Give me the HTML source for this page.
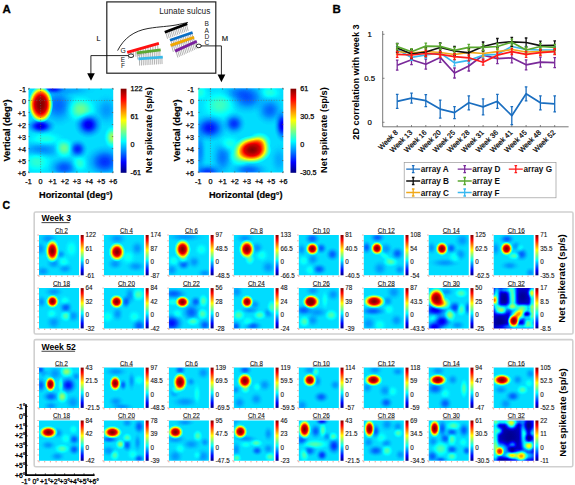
<!DOCTYPE html><html><head><meta charset="utf-8"><style>html,body{margin:0;padding:0;background:#fff;overflow:hidden}svg{display:block}text{font-family:"Liberation Sans",sans-serif}</style></head><body>
<svg width="575" height="485" viewBox="0 0 575 485">
<defs>
<filter id="jet" filterUnits="userSpaceOnUse" x="-5" y="-5" width="110" height="110" color-interpolation-filters="sRGB">
<feComponentTransfer>
<feFuncR type="table" tableValues="0 0 0 0 0.5 1 1 1 0.5"/>
<feFuncG type="table" tableValues="0 0 0.5 1 1 1 0.5 0 0"/>
<feFuncB type="table" tableValues="0.5 1 1 1 0.5 0 0 0 0"/>
</feComponentTransfer>
</filter>
<radialGradient id="gp"><stop offset="0" stop-color="#fff" stop-opacity="1"/><stop offset="0.2" stop-color="#fff" stop-opacity="0.95"/><stop offset="0.42" stop-color="#fff" stop-opacity="0.84"/><stop offset="0.62" stop-color="#fff" stop-opacity="0.52"/><stop offset="0.76" stop-color="#fff" stop-opacity="0.26"/><stop offset="0.88" stop-color="#fff" stop-opacity="0.09"/><stop offset="1" stop-color="#fff" stop-opacity="0"/></radialGradient>
<radialGradient id="gq"><stop offset="0" stop-color="#fff" stop-opacity="1"/><stop offset="0.25" stop-color="#fff" stop-opacity="0.97"/><stop offset="0.48" stop-color="#fff" stop-opacity="0.88"/><stop offset="0.66" stop-color="#fff" stop-opacity="0.65"/><stop offset="0.8" stop-color="#fff" stop-opacity="0.38"/><stop offset="0.9" stop-color="#fff" stop-opacity="0.17"/><stop offset="1" stop-color="#fff" stop-opacity="0"/></radialGradient>
<radialGradient id="gs"><stop offset="0" stop-color="#fff" stop-opacity="1"/><stop offset="0.2" stop-color="#fff" stop-opacity="0.9"/><stop offset="0.4" stop-color="#fff" stop-opacity="0.65"/><stop offset="0.6" stop-color="#fff" stop-opacity="0.33"/><stop offset="0.8" stop-color="#fff" stop-opacity="0.12"/><stop offset="1" stop-color="#fff" stop-opacity="0"/></radialGradient>
<radialGradient id="gn"><stop offset="0" stop-color="#000" stop-opacity="1"/><stop offset="0.2" stop-color="#000" stop-opacity="0.9"/><stop offset="0.4" stop-color="#000" stop-opacity="0.65"/><stop offset="0.6" stop-color="#000" stop-opacity="0.33"/><stop offset="0.8" stop-color="#000" stop-opacity="0.12"/><stop offset="1" stop-color="#000" stop-opacity="0"/></radialGradient>
<linearGradient id="jetv" x1="0" y1="1" x2="0" y2="0"><stop offset="0" stop-color="#000080"/><stop offset="0.125" stop-color="#0000ff"/><stop offset="0.375" stop-color="#00ffff"/><stop offset="0.625" stop-color="#ffff00"/><stop offset="0.875" stop-color="#ff0000"/><stop offset="1" stop-color="#800000"/></linearGradient>
</defs>
<text x="2.50" y="13.40" font-size="11.5" stroke="#000" stroke-width="0.3" font-weight="bold" >A</text>
<rect x="106.8" y="1.9" width="109" height="71.3" fill="none" stroke="#222" stroke-width="1.2"/>
<text x="159.20" y="13.60" font-size="8.3" fill="#222" >Lunate sulcus</text>
<path d="M117.6 50.6 C124 38 134 31 148 28.5 C160 26.5 168 26.5 176 25 C181 24 185 23 188 22.5" fill="none" stroke="#111" stroke-width="0.9"/>
<line x1="165.66" y1="31.97" x2="167.57" y2="38.77" stroke="#666" stroke-width="0.5"/><line x1="167.38" y1="31.32" x2="169.29" y2="38.12" stroke="#666" stroke-width="0.5"/><line x1="169.11" y1="30.67" x2="171.01" y2="37.47" stroke="#666" stroke-width="0.5"/><line x1="170.83" y1="30.01" x2="172.73" y2="36.81" stroke="#666" stroke-width="0.5"/><line x1="172.55" y1="29.36" x2="174.46" y2="36.16" stroke="#666" stroke-width="0.5"/><line x1="174.28" y1="28.70" x2="176.18" y2="35.50" stroke="#666" stroke-width="0.5"/><line x1="176.00" y1="28.05" x2="177.90" y2="34.85" stroke="#666" stroke-width="0.5"/><line x1="177.72" y1="27.40" x2="179.63" y2="34.20" stroke="#666" stroke-width="0.5"/><line x1="179.45" y1="26.74" x2="181.35" y2="33.54" stroke="#666" stroke-width="0.5"/><line x1="181.17" y1="26.09" x2="183.07" y2="32.89" stroke="#666" stroke-width="0.5"/><line x1="182.89" y1="25.43" x2="184.80" y2="32.23" stroke="#666" stroke-width="0.5"/><line x1="184.62" y1="24.78" x2="186.52" y2="31.58" stroke="#666" stroke-width="0.5"/><line x1="186.34" y1="24.13" x2="188.24" y2="30.93" stroke="#666" stroke-width="0.5"/><line x1="170.87" y1="40.00" x2="172.77" y2="46.80" stroke="#666" stroke-width="0.5"/><line x1="172.61" y1="39.40" x2="174.51" y2="46.20" stroke="#666" stroke-width="0.5"/><line x1="174.35" y1="38.80" x2="176.25" y2="45.60" stroke="#666" stroke-width="0.5"/><line x1="176.08" y1="38.20" x2="177.99" y2="45.00" stroke="#666" stroke-width="0.5"/><line x1="177.82" y1="37.60" x2="179.73" y2="44.40" stroke="#666" stroke-width="0.5"/><line x1="179.56" y1="37.00" x2="181.47" y2="43.80" stroke="#666" stroke-width="0.5"/><line x1="181.30" y1="36.40" x2="183.20" y2="43.20" stroke="#666" stroke-width="0.5"/><line x1="183.04" y1="35.80" x2="184.94" y2="42.60" stroke="#666" stroke-width="0.5"/><line x1="184.78" y1="35.20" x2="186.68" y2="42.00" stroke="#666" stroke-width="0.5"/><line x1="186.52" y1="34.60" x2="188.42" y2="41.40" stroke="#666" stroke-width="0.5"/><line x1="188.25" y1="34.00" x2="190.16" y2="40.80" stroke="#666" stroke-width="0.5"/><line x1="189.99" y1="33.40" x2="191.90" y2="40.20" stroke="#666" stroke-width="0.5"/><line x1="191.73" y1="32.80" x2="193.63" y2="39.60" stroke="#666" stroke-width="0.5"/><line x1="171.41" y1="45.08" x2="173.32" y2="51.88" stroke="#666" stroke-width="0.5"/><line x1="173.23" y1="44.45" x2="175.14" y2="51.25" stroke="#666" stroke-width="0.5"/><line x1="175.06" y1="43.82" x2="176.96" y2="50.62" stroke="#666" stroke-width="0.5"/><line x1="176.88" y1="43.19" x2="178.78" y2="49.99" stroke="#666" stroke-width="0.5"/><line x1="178.70" y1="42.56" x2="180.61" y2="49.36" stroke="#666" stroke-width="0.5"/><line x1="180.53" y1="41.93" x2="182.43" y2="48.73" stroke="#666" stroke-width="0.5"/><line x1="182.35" y1="41.30" x2="184.25" y2="48.10" stroke="#666" stroke-width="0.5"/><line x1="184.17" y1="40.67" x2="186.08" y2="47.47" stroke="#666" stroke-width="0.5"/><line x1="186.00" y1="40.04" x2="187.90" y2="46.84" stroke="#666" stroke-width="0.5"/><line x1="187.82" y1="39.41" x2="189.72" y2="46.21" stroke="#666" stroke-width="0.5"/><line x1="189.64" y1="38.78" x2="191.55" y2="45.58" stroke="#666" stroke-width="0.5"/><line x1="191.47" y1="38.15" x2="193.37" y2="44.95" stroke="#666" stroke-width="0.5"/><line x1="193.29" y1="37.52" x2="195.19" y2="44.32" stroke="#666" stroke-width="0.5"/><line x1="175.93" y1="50.72" x2="177.84" y2="57.52" stroke="#666" stroke-width="0.5"/><line x1="177.60" y1="49.97" x2="179.51" y2="56.77" stroke="#666" stroke-width="0.5"/><line x1="179.27" y1="49.22" x2="181.18" y2="56.02" stroke="#666" stroke-width="0.5"/><line x1="180.94" y1="48.46" x2="182.85" y2="55.26" stroke="#666" stroke-width="0.5"/><line x1="182.61" y1="47.71" x2="184.52" y2="54.51" stroke="#666" stroke-width="0.5"/><line x1="184.28" y1="46.95" x2="186.18" y2="53.75" stroke="#666" stroke-width="0.5"/><line x1="185.95" y1="46.20" x2="187.85" y2="53.00" stroke="#666" stroke-width="0.5"/><line x1="187.62" y1="45.45" x2="189.52" y2="52.25" stroke="#666" stroke-width="0.5"/><line x1="189.29" y1="44.69" x2="191.19" y2="51.49" stroke="#666" stroke-width="0.5"/><line x1="190.96" y1="43.94" x2="192.86" y2="50.74" stroke="#666" stroke-width="0.5"/><line x1="192.63" y1="43.18" x2="194.53" y2="49.98" stroke="#666" stroke-width="0.5"/><line x1="194.30" y1="42.43" x2="196.20" y2="49.23" stroke="#666" stroke-width="0.5"/><line x1="195.97" y1="41.68" x2="197.87" y2="48.48" stroke="#666" stroke-width="0.5"/><line x1="164.80" y1="32.30" x2="187.20" y2="23.80" stroke="#000" stroke-width="2.8"/><line x1="170.00" y1="40.30" x2="192.60" y2="32.50" stroke="#0a6ec4" stroke-width="2.8"/><line x1="170.50" y1="45.40" x2="194.20" y2="37.20" stroke="#f0a800" stroke-width="2.8"/><line x1="175.10" y1="51.10" x2="196.80" y2="41.30" stroke="#7a1f9e" stroke-width="2.8"/>
<line x1="128.42" y1="52.05" x2="128.62" y2="58.85" stroke="#666" stroke-width="0.5"/><line x1="130.86" y1="51.35" x2="131.06" y2="58.15" stroke="#666" stroke-width="0.5"/><line x1="133.30" y1="50.65" x2="133.50" y2="57.45" stroke="#666" stroke-width="0.5"/><line x1="135.73" y1="49.95" x2="135.94" y2="56.75" stroke="#666" stroke-width="0.5"/><line x1="138.17" y1="49.25" x2="138.38" y2="56.05" stroke="#666" stroke-width="0.5"/><line x1="140.61" y1="48.55" x2="140.82" y2="55.35" stroke="#666" stroke-width="0.5"/><line x1="143.05" y1="47.85" x2="143.25" y2="54.65" stroke="#666" stroke-width="0.5"/><line x1="145.49" y1="47.15" x2="145.69" y2="53.95" stroke="#666" stroke-width="0.5"/><line x1="147.93" y1="46.45" x2="148.13" y2="53.25" stroke="#666" stroke-width="0.5"/><line x1="150.37" y1="45.75" x2="150.57" y2="52.55" stroke="#666" stroke-width="0.5"/><line x1="152.80" y1="45.05" x2="153.01" y2="51.85" stroke="#666" stroke-width="0.5"/><line x1="155.24" y1="44.35" x2="155.45" y2="51.15" stroke="#666" stroke-width="0.5"/><line x1="157.68" y1="43.65" x2="157.88" y2="50.45" stroke="#666" stroke-width="0.5"/><line x1="137.62" y1="52.68" x2="137.83" y2="59.48" stroke="#666" stroke-width="0.5"/><line x1="139.47" y1="52.45" x2="139.67" y2="59.25" stroke="#666" stroke-width="0.5"/><line x1="141.32" y1="52.22" x2="141.52" y2="59.02" stroke="#666" stroke-width="0.5"/><line x1="143.16" y1="51.99" x2="143.37" y2="58.79" stroke="#666" stroke-width="0.5"/><line x1="145.01" y1="51.76" x2="145.21" y2="58.56" stroke="#666" stroke-width="0.5"/><line x1="146.85" y1="51.53" x2="147.06" y2="58.33" stroke="#666" stroke-width="0.5"/><line x1="148.70" y1="51.30" x2="148.90" y2="58.10" stroke="#666" stroke-width="0.5"/><line x1="150.55" y1="51.07" x2="150.75" y2="57.87" stroke="#666" stroke-width="0.5"/><line x1="152.39" y1="50.84" x2="152.60" y2="57.64" stroke="#666" stroke-width="0.5"/><line x1="154.24" y1="50.61" x2="154.44" y2="57.41" stroke="#666" stroke-width="0.5"/><line x1="156.08" y1="50.38" x2="156.29" y2="57.18" stroke="#666" stroke-width="0.5"/><line x1="157.93" y1="50.15" x2="158.13" y2="56.95" stroke="#666" stroke-width="0.5"/><line x1="159.78" y1="49.92" x2="159.98" y2="56.72" stroke="#666" stroke-width="0.5"/><line x1="139.43" y1="58.83" x2="139.64" y2="65.63" stroke="#666" stroke-width="0.5"/><line x1="141.30" y1="58.70" x2="141.51" y2="65.50" stroke="#666" stroke-width="0.5"/><line x1="143.17" y1="58.57" x2="143.38" y2="65.37" stroke="#666" stroke-width="0.5"/><line x1="145.04" y1="58.44" x2="145.25" y2="65.24" stroke="#666" stroke-width="0.5"/><line x1="146.91" y1="58.31" x2="147.12" y2="65.11" stroke="#666" stroke-width="0.5"/><line x1="148.78" y1="58.18" x2="148.98" y2="64.98" stroke="#666" stroke-width="0.5"/><line x1="150.65" y1="58.05" x2="150.85" y2="64.85" stroke="#666" stroke-width="0.5"/><line x1="152.52" y1="57.92" x2="152.72" y2="64.72" stroke="#666" stroke-width="0.5"/><line x1="154.39" y1="57.79" x2="154.59" y2="64.59" stroke="#666" stroke-width="0.5"/><line x1="156.26" y1="57.66" x2="156.46" y2="64.46" stroke="#666" stroke-width="0.5"/><line x1="158.13" y1="57.53" x2="158.33" y2="64.33" stroke="#666" stroke-width="0.5"/><line x1="160.00" y1="57.40" x2="160.20" y2="64.20" stroke="#666" stroke-width="0.5"/><line x1="161.87" y1="57.27" x2="162.07" y2="64.07" stroke="#666" stroke-width="0.5"/><line x1="127.20" y1="52.40" x2="158.90" y2="43.30" stroke="#ff1010" stroke-width="2.8"/><line x1="136.70" y1="52.80" x2="160.70" y2="49.80" stroke="#5aa832" stroke-width="2.8"/><line x1="138.50" y1="58.90" x2="162.80" y2="57.20" stroke="#38b8e8" stroke-width="2.8"/>
<text x="120.40" y="53.40" font-size="6.8" fill="#111" >G</text>
<text x="122.90" y="61.60" font-size="6.4" text-anchor="middle" fill="#111" >E</text>
<text x="122.90" y="67.80" font-size="6.4" text-anchor="middle" fill="#111" >F</text>
<text x="206.80" y="26.40" font-size="6.6" text-anchor="middle" fill="#222" >B</text>
<text x="206.80" y="32.50" font-size="6.6" text-anchor="middle" fill="#222" >A</text>
<text x="206.80" y="38.60" font-size="6.6" text-anchor="middle" fill="#222" >D</text>
<text x="206.80" y="44.70" font-size="6.6" text-anchor="middle" fill="#222" >C</text>
<text x="96.60" y="40.60" font-size="7.0" stroke="#111" stroke-width="0.15" fill="#111" >L</text>
<text x="221.80" y="40.60" font-size="7.6" stroke="#111" stroke-width="0.15" fill="#111" >M</text>
<ellipse cx="131" cy="55.7" rx="2.6" ry="1.8" fill="#fff" stroke="#111" stroke-width="0.9"/>
<ellipse cx="198.8" cy="45.9" rx="2.5" ry="1.8" fill="#fff" stroke="#111" stroke-width="0.9"/>
<polyline points="128.1,55.6 90.9,55.6 90.9,74" fill="none" stroke="#111" stroke-width="0.9"/>
<polygon points="87.2,73.3 94.8,73.3 91,80.8" fill="#000"/>
<polyline points="200.7,45.9 221.4,45.9 221.4,75" fill="none" stroke="#111" stroke-width="0.9"/>
<polygon points="217.6,74.5 225.3,74.5 221.4,82.3" fill="#000"/>
<svg x="28.50" y="88.40" width="84.70" height="84.30" viewBox="0 0 100 100" preserveAspectRatio="none"><g filter="url(#jet)"><rect x="-5" y="-5" width="110" height="110" fill="rgb(87,87,87)"/><ellipse cx="35.0" cy="20.0" rx="22.0" ry="26.0" fill="url(#gn)" opacity="0.35"/><ellipse cx="50.0" cy="2.0" rx="30.0" ry="8.0" fill="url(#gn)" opacity="0.15"/><ellipse cx="29.0" cy="0.0" rx="16.0" ry="8.0" fill="url(#gn)" opacity="0.60"/><ellipse cx="92.0" cy="26.0" rx="16.0" ry="20.0" fill="url(#gn)" opacity="0.20"/><ellipse cx="15.3" cy="73.0" rx="30.0" ry="12.0" fill="url(#gn)" opacity="0.25"/><ellipse cx="42.0" cy="94.0" rx="20.0" ry="14.0" fill="url(#gn)" opacity="0.40"/><ellipse cx="90.0" cy="87.0" rx="24.0" ry="20.0" fill="url(#gn)" opacity="0.50"/><ellipse cx="20.0" cy="60.0" rx="24.0" ry="10.0" fill="url(#gs)" opacity="0.10"/><ellipse cx="10.0" cy="87.0" rx="20.0" ry="16.0" fill="url(#gs)" opacity="0.12"/><ellipse cx="61.7" cy="24.7" rx="20.0" ry="17.0" fill="url(#gs)" opacity="0.22"/><ellipse cx="41.7" cy="71.0" rx="13.0" ry="13.0" fill="url(#gs)" opacity="0.22"/><ellipse cx="99.0" cy="58.0" rx="10.0" ry="14.0" fill="url(#gs)" opacity="0.30"/><ellipse cx="60.0" cy="89.0" rx="12.0" ry="12.0" fill="url(#gs)" opacity="0.12"/><ellipse cx="58.0" cy="72.0" rx="12.0" ry="12.0" fill="url(#gn)" opacity="0.55"/><ellipse cx="70.8" cy="43.2" rx="17.0" ry="16.0" fill="url(#gn)" opacity="0.72"/><ellipse cx="14.3" cy="44.8" rx="18.0" ry="10.0" fill="url(#gn)" opacity="0.75"/><ellipse cx="14.5" cy="19.0" rx="14.7" ry="21.8" fill="url(#gq)" opacity="1.00"/></g></svg>
<line x1="40.60" y1="88.40" x2="40.60" y2="172.70" stroke="#666" stroke-width="0.6" stroke-dasharray="1 1.6"/>
<line x1="28.50" y1="100.44" x2="113.20" y2="100.44" stroke="#666" stroke-width="0.6" stroke-dasharray="1 1.6"/>
<path d="M28.50 88.40v1.3M28.50 172.70v-1.3M28.50 88.40h1.3M113.20 88.40h-1.3M40.60 88.40v1.3M40.60 172.70v-1.3M28.50 100.44h1.3M113.20 100.44h-1.3M52.70 88.40v1.3M52.70 172.70v-1.3M28.50 112.49h1.3M113.20 112.49h-1.3M64.80 88.40v1.3M64.80 172.70v-1.3M28.50 124.53h1.3M113.20 124.53h-1.3M76.90 88.40v1.3M76.90 172.70v-1.3M28.50 136.57h1.3M113.20 136.57h-1.3M89.00 88.40v1.3M89.00 172.70v-1.3M28.50 148.61h1.3M113.20 148.61h-1.3M101.10 88.40v1.3M101.10 172.70v-1.3M28.50 160.66h1.3M113.20 160.66h-1.3M113.20 88.40v1.3M113.20 172.70v-1.3M28.50 172.70h1.3M113.20 172.70h-1.3" stroke="#555" stroke-width="0.7"/>
<text x="26.00" y="91.60" font-size="7.2" stroke="#000" stroke-width="0.25" text-anchor="end" >-1</text>
<text x="26.00" y="103.64" font-size="7.2" stroke="#000" stroke-width="0.25" text-anchor="end" >0</text>
<text x="26.00" y="115.69" font-size="7.2" stroke="#000" stroke-width="0.25" text-anchor="end" >+1</text>
<text x="26.00" y="127.73" font-size="7.2" stroke="#000" stroke-width="0.25" text-anchor="end" >+2</text>
<text x="26.00" y="139.77" font-size="7.2" stroke="#000" stroke-width="0.25" text-anchor="end" >+3</text>
<text x="26.00" y="151.81" font-size="7.2" stroke="#000" stroke-width="0.25" text-anchor="end" >+4</text>
<text x="26.00" y="163.86" font-size="7.2" stroke="#000" stroke-width="0.25" text-anchor="end" >+5</text>
<text x="26.00" y="175.90" font-size="7.2" stroke="#000" stroke-width="0.25" text-anchor="end" >+6</text>
<text x="28.50" y="184.20" font-size="7.2" stroke="#000" stroke-width="0.25" text-anchor="middle" >-1</text>
<text x="40.60" y="184.20" font-size="7.2" stroke="#000" stroke-width="0.25" text-anchor="middle" >0</text>
<text x="52.70" y="184.20" font-size="7.2" stroke="#000" stroke-width="0.25" text-anchor="middle" >+1</text>
<text x="64.80" y="184.20" font-size="7.2" stroke="#000" stroke-width="0.25" text-anchor="middle" >+2</text>
<text x="76.90" y="184.20" font-size="7.2" stroke="#000" stroke-width="0.25" text-anchor="middle" >+3</text>
<text x="89.00" y="184.20" font-size="7.2" stroke="#000" stroke-width="0.25" text-anchor="middle" >+4</text>
<text x="101.10" y="184.20" font-size="7.2" stroke="#000" stroke-width="0.25" text-anchor="middle" >+5</text>
<text x="113.20" y="184.20" font-size="7.2" stroke="#000" stroke-width="0.25" text-anchor="middle" >+6</text>
<text x="9.60" y="130.55" font-size="9.3" stroke="#000" stroke-width="0.2" font-weight="bold" text-anchor="middle" transform="rotate(-90 9.60 130.55)" >Vertical (deg°)</text>
<text x="75.85" y="198.40" font-size="9.2" stroke="#000" stroke-width="0.2" font-weight="bold" text-anchor="middle" >Horizontal (deg°)</text>
<rect x="120.70" y="88.70" width="5.80" height="84.10" fill="url(#jetv)"/>
<text x="130.60" y="91.30" font-size="7.2" stroke="#000" stroke-width="0.25" >122</text>
<text x="130.60" y="119.40" font-size="7.2" stroke="#000" stroke-width="0.25" >61</text>
<text x="130.60" y="147.40" font-size="7.2" stroke="#000" stroke-width="0.25" >0</text>
<text x="130.60" y="175.40" font-size="7.2" stroke="#000" stroke-width="0.25" >-61</text>
<text x="152.40" y="130.00" font-size="9.3" font-weight="bold" text-anchor="middle" transform="rotate(-90 152.40 130.00)" >Net spikerate (sp/s)</text>
<svg x="198.30" y="88.30" width="85.00" height="84.30" viewBox="0 0 100 100" preserveAspectRatio="none"><g filter="url(#jet)"><rect x="-5" y="-5" width="110" height="110" fill="rgb(87,87,87)"/><ellipse cx="25.0" cy="20.0" rx="24.0" ry="20.0" fill="url(#gs)" opacity="0.15"/><ellipse cx="2.0" cy="5.0" rx="12.0" ry="12.0" fill="url(#gs)" opacity="0.10"/><ellipse cx="45.0" cy="5.0" rx="20.0" ry="12.0" fill="url(#gn)" opacity="0.20"/><ellipse cx="58.0" cy="11.0" rx="24.0" ry="20.0" fill="url(#gn)" opacity="0.40"/><ellipse cx="84.0" cy="26.0" rx="18.0" ry="18.0" fill="url(#gn)" opacity="0.35"/><ellipse cx="84.0" cy="5.0" rx="16.0" ry="10.0" fill="url(#gs)" opacity="0.10"/><ellipse cx="28.5" cy="82.0" rx="14.0" ry="24.0" fill="url(#gn)" opacity="0.30"/><ellipse cx="11.0" cy="100.0" rx="20.0" ry="12.0" fill="url(#gn)" opacity="0.50"/><ellipse cx="2.0" cy="75.0" rx="8.0" ry="30.0" fill="url(#gn)" opacity="0.25"/><ellipse cx="36.0" cy="66.0" rx="16.0" ry="12.0" fill="url(#gs)" opacity="0.10"/><ellipse cx="60.0" cy="97.0" rx="24.0" ry="10.0" fill="url(#gn)" opacity="0.35"/><ellipse cx="95.0" cy="85.0" rx="12.0" ry="20.0" fill="url(#gn)" opacity="0.15"/><ellipse cx="13.4" cy="47.0" rx="21.2" ry="17.0" fill="url(#gn)" opacity="0.60"/><ellipse cx="42.0" cy="42.0" rx="14.0" ry="14.0" fill="url(#gn)" opacity="0.50"/><ellipse cx="99.0" cy="44.0" rx="10.0" ry="20.0" fill="url(#gn)" opacity="0.70"/><ellipse cx="50.0" cy="80.0" rx="16.0" ry="14.0" fill="url(#gs)" opacity="0.25"/><ellipse cx="72.0" cy="64.0" rx="14.0" ry="12.0" fill="url(#gs)" opacity="0.45"/><ellipse cx="63.5" cy="73.0" rx="22.5" ry="16.9" fill="url(#gp)" opacity="1.00"/></g></svg>
<line x1="210.44" y1="88.30" x2="210.44" y2="172.60" stroke="#666" stroke-width="0.6" stroke-dasharray="1 1.6"/>
<line x1="198.30" y1="100.34" x2="283.30" y2="100.34" stroke="#666" stroke-width="0.6" stroke-dasharray="1 1.6"/>
<path d="M198.30 88.30v1.3M198.30 172.60v-1.3M198.30 88.30h1.3M283.30 88.30h-1.3M210.44 88.30v1.3M210.44 172.60v-1.3M198.30 100.34h1.3M283.30 100.34h-1.3M222.59 88.30v1.3M222.59 172.60v-1.3M198.30 112.39h1.3M283.30 112.39h-1.3M234.73 88.30v1.3M234.73 172.60v-1.3M198.30 124.43h1.3M283.30 124.43h-1.3M246.87 88.30v1.3M246.87 172.60v-1.3M198.30 136.47h1.3M283.30 136.47h-1.3M259.01 88.30v1.3M259.01 172.60v-1.3M198.30 148.51h1.3M283.30 148.51h-1.3M271.16 88.30v1.3M271.16 172.60v-1.3M198.30 160.56h1.3M283.30 160.56h-1.3M283.30 88.30v1.3M283.30 172.60v-1.3M198.30 172.60h1.3M283.30 172.60h-1.3" stroke="#555" stroke-width="0.7"/>
<text x="194.00" y="91.50" font-size="7.2" stroke="#000" stroke-width="0.25" text-anchor="end" >-1</text>
<text x="194.00" y="103.54" font-size="7.2" stroke="#000" stroke-width="0.25" text-anchor="end" >0</text>
<text x="194.00" y="115.59" font-size="7.2" stroke="#000" stroke-width="0.25" text-anchor="end" >+1</text>
<text x="194.00" y="127.63" font-size="7.2" stroke="#000" stroke-width="0.25" text-anchor="end" >+2</text>
<text x="194.00" y="139.67" font-size="7.2" stroke="#000" stroke-width="0.25" text-anchor="end" >+3</text>
<text x="194.00" y="151.71" font-size="7.2" stroke="#000" stroke-width="0.25" text-anchor="end" >+4</text>
<text x="194.00" y="163.76" font-size="7.2" stroke="#000" stroke-width="0.25" text-anchor="end" >+5</text>
<text x="194.00" y="175.80" font-size="7.2" stroke="#000" stroke-width="0.25" text-anchor="end" >+6</text>
<text x="198.30" y="184.20" font-size="7.2" stroke="#000" stroke-width="0.25" text-anchor="middle" >-1</text>
<text x="210.44" y="184.20" font-size="7.2" stroke="#000" stroke-width="0.25" text-anchor="middle" >0</text>
<text x="222.59" y="184.20" font-size="7.2" stroke="#000" stroke-width="0.25" text-anchor="middle" >+1</text>
<text x="234.73" y="184.20" font-size="7.2" stroke="#000" stroke-width="0.25" text-anchor="middle" >+2</text>
<text x="246.87" y="184.20" font-size="7.2" stroke="#000" stroke-width="0.25" text-anchor="middle" >+3</text>
<text x="259.01" y="184.20" font-size="7.2" stroke="#000" stroke-width="0.25" text-anchor="middle" >+4</text>
<text x="271.16" y="184.20" font-size="7.2" stroke="#000" stroke-width="0.25" text-anchor="middle" >+5</text>
<text x="283.30" y="184.20" font-size="7.2" stroke="#000" stroke-width="0.25" text-anchor="middle" >+6</text>
<text x="179.60" y="130.45" font-size="9.3" stroke="#000" stroke-width="0.2" font-weight="bold" text-anchor="middle" transform="rotate(-90 179.60 130.45)" >Vertical (deg°)</text>
<text x="245.80" y="198.40" font-size="9.2" stroke="#000" stroke-width="0.2" font-weight="bold" text-anchor="middle" >Horizontal (deg°)</text>
<rect x="290.50" y="88.70" width="5.70" height="84.10" fill="url(#jetv)"/>
<text x="300.20" y="91.30" font-size="7.2" stroke="#000" stroke-width="0.25" >61</text>
<text x="300.20" y="119.40" font-size="7.2" stroke="#000" stroke-width="0.25" >30.5</text>
<text x="300.20" y="147.40" font-size="7.2" stroke="#000" stroke-width="0.25" >0</text>
<text x="300.20" y="175.40" font-size="7.2" stroke="#000" stroke-width="0.25" >-30.5</text>
<text x="326.60" y="130.00" font-size="9.3" font-weight="bold" text-anchor="middle" transform="rotate(-90 326.60 130.00)" >Net spikerate (sp/s)</text>
<text x="332.60" y="13.00" font-size="11.5" stroke="#000" stroke-width="0.3" font-weight="bold" >B</text>
<text x="358.60" y="82.00" font-size="9.2" font-weight="bold" text-anchor="middle" transform="rotate(-90 358.60 82.00)" >2D correlation with week 3</text>
<line x1="382.7" y1="31" x2="382.7" y2="126.8" stroke="#555" stroke-width="0.8"/>
<line x1="382.7" y1="126.8" x2="568.6" y2="126.8" stroke="#555" stroke-width="0.8"/>
<line x1="382.7" y1="34.3" x2="384.5" y2="34.3" stroke="#555" stroke-width="0.7"/>
<text x="369.60" y="37.10" font-size="7.8" stroke="#000" stroke-width="0.2" text-anchor="middle" >1</text>
<line x1="382.7" y1="78.3" x2="384.5" y2="78.3" stroke="#555" stroke-width="0.7"/>
<text x="369.60" y="81.10" font-size="7.8" stroke="#000" stroke-width="0.2" text-anchor="middle" >0.5</text>
<line x1="382.7" y1="122.3" x2="384.5" y2="122.3" stroke="#555" stroke-width="0.7"/>
<text x="369.60" y="125.10" font-size="7.8" stroke="#000" stroke-width="0.2" text-anchor="middle" >0</text>
<line x1="397.2" y1="126.8" x2="397.2" y2="125.0" stroke="#555" stroke-width="0.7"/>
<line x1="411.5" y1="126.8" x2="411.5" y2="125.0" stroke="#555" stroke-width="0.7"/>
<line x1="425.8" y1="126.8" x2="425.8" y2="125.0" stroke="#555" stroke-width="0.7"/>
<line x1="440.2" y1="126.8" x2="440.2" y2="125.0" stroke="#555" stroke-width="0.7"/>
<line x1="454.5" y1="126.8" x2="454.5" y2="125.0" stroke="#555" stroke-width="0.7"/>
<line x1="468.8" y1="126.8" x2="468.8" y2="125.0" stroke="#555" stroke-width="0.7"/>
<line x1="483.1" y1="126.8" x2="483.1" y2="125.0" stroke="#555" stroke-width="0.7"/>
<line x1="497.4" y1="126.8" x2="497.4" y2="125.0" stroke="#555" stroke-width="0.7"/>
<line x1="511.8" y1="126.8" x2="511.8" y2="125.0" stroke="#555" stroke-width="0.7"/>
<line x1="526.1" y1="126.8" x2="526.1" y2="125.0" stroke="#555" stroke-width="0.7"/>
<line x1="540.4" y1="126.8" x2="540.4" y2="125.0" stroke="#555" stroke-width="0.7"/>
<line x1="554.7" y1="126.8" x2="554.7" y2="125.0" stroke="#555" stroke-width="0.7"/>
<text x="398.40" y="133.00" font-size="7.2" stroke="#000" stroke-width="0.2" text-anchor="end" transform="rotate(-45 398.40 133.00)" >Week 8</text>
<text x="412.72" y="133.00" font-size="7.2" stroke="#000" stroke-width="0.2" text-anchor="end" transform="rotate(-45 412.72 133.00)" >Week 13</text>
<text x="427.04" y="133.00" font-size="7.2" stroke="#000" stroke-width="0.2" text-anchor="end" transform="rotate(-45 427.04 133.00)" >Week 16</text>
<text x="441.36" y="133.00" font-size="7.2" stroke="#000" stroke-width="0.2" text-anchor="end" transform="rotate(-45 441.36 133.00)" >Week 20</text>
<text x="455.68" y="133.00" font-size="7.2" stroke="#000" stroke-width="0.2" text-anchor="end" transform="rotate(-45 455.68 133.00)" >Week 25</text>
<text x="470.00" y="133.00" font-size="7.2" stroke="#000" stroke-width="0.2" text-anchor="end" transform="rotate(-45 470.00 133.00)" >Week 28</text>
<text x="484.32" y="133.00" font-size="7.2" stroke="#000" stroke-width="0.2" text-anchor="end" transform="rotate(-45 484.32 133.00)" >Week 31</text>
<text x="498.64" y="133.00" font-size="7.2" stroke="#000" stroke-width="0.2" text-anchor="end" transform="rotate(-45 498.64 133.00)" >Week 36</text>
<text x="512.96" y="133.00" font-size="7.2" stroke="#000" stroke-width="0.2" text-anchor="end" transform="rotate(-45 512.96 133.00)" >Week 41</text>
<text x="527.28" y="133.00" font-size="7.2" stroke="#000" stroke-width="0.2" text-anchor="end" transform="rotate(-45 527.28 133.00)" >Week 45</text>
<text x="541.60" y="133.00" font-size="7.2" stroke="#000" stroke-width="0.2" text-anchor="end" transform="rotate(-45 541.60 133.00)" >Week 48</text>
<text x="555.92" y="133.00" font-size="7.2" stroke="#000" stroke-width="0.2" text-anchor="end" transform="rotate(-45 555.92 133.00)" >Week 52</text>
<polyline points="397.2,101.3 411.5,98.1 425.8,100.7 440.2,109.1 454.5,112.6 468.8,102.8 483.1,106.9 497.4,101.3 511.8,115.7 526.1,93.8 540.4,102.8 554.7,103.8" fill="none" stroke="#1a6ec0" stroke-width="1.7" stroke-linejoin="round"/><path d="M397.2 94.3V108.3M395.9 94.3h2.6M395.9 108.3h2.6" stroke="#1a6ec0" stroke-width="1.3" fill="none"/><path d="M411.5 93.1V103.1M410.2 93.1h2.6M410.2 103.1h2.6" stroke="#1a6ec0" stroke-width="1.3" fill="none"/><path d="M425.8 94.7V106.7M424.5 94.7h2.6M424.5 106.7h2.6" stroke="#1a6ec0" stroke-width="1.3" fill="none"/><path d="M440.2 100.1V118.1M438.9 100.1h2.6M438.9 118.1h2.6" stroke="#1a6ec0" stroke-width="1.3" fill="none"/><path d="M454.5 106.6V118.6M453.2 106.6h2.6M453.2 118.6h2.6" stroke="#1a6ec0" stroke-width="1.3" fill="none"/><path d="M468.8 95.8V109.8M467.5 95.8h2.6M467.5 109.8h2.6" stroke="#1a6ec0" stroke-width="1.3" fill="none"/><path d="M483.1 98.9V114.9M481.8 98.9h2.6M481.8 114.9h2.6" stroke="#1a6ec0" stroke-width="1.3" fill="none"/><path d="M497.4 94.3V108.3M496.1 94.3h2.6M496.1 108.3h2.6" stroke="#1a6ec0" stroke-width="1.3" fill="none"/><path d="M511.8 106.7V124.7M510.5 106.7h2.6M510.5 124.7h2.6" stroke="#1a6ec0" stroke-width="1.3" fill="none"/><path d="M526.1 86.8V100.8M524.8 86.8h2.6M524.8 100.8h2.6" stroke="#1a6ec0" stroke-width="1.3" fill="none"/><path d="M540.4 95.8V109.8M539.1 95.8h2.6M539.1 109.8h2.6" stroke="#1a6ec0" stroke-width="1.3" fill="none"/><path d="M554.7 95.8V111.8M553.4 95.8h2.6M553.4 111.8h2.6" stroke="#1a6ec0" stroke-width="1.3" fill="none"/>
<polyline points="397.2,65.2 411.5,59.7 425.8,64.2 440.2,57.4 454.5,73.0 468.8,66.0 483.1,55.2 497.4,58.7 511.8,57.8 526.1,64.8 540.4,62.2 554.7,62.7" fill="none" stroke="#7a2a9a" stroke-width="1.7" stroke-linejoin="round"/><path d="M397.2 60.2V70.2M395.9 60.2h2.6M395.9 70.2h2.6" stroke="#7a2a9a" stroke-width="1.3" fill="none"/><path d="M411.5 54.7V64.7M410.2 54.7h2.6M410.2 64.7h2.6" stroke="#7a2a9a" stroke-width="1.3" fill="none"/><path d="M425.8 59.2V69.2M424.5 59.2h2.6M424.5 69.2h2.6" stroke="#7a2a9a" stroke-width="1.3" fill="none"/><path d="M440.2 52.4V62.4M438.9 52.4h2.6M438.9 62.4h2.6" stroke="#7a2a9a" stroke-width="1.3" fill="none"/><path d="M454.5 68.0V78.0M453.2 68.0h2.6M453.2 78.0h2.6" stroke="#7a2a9a" stroke-width="1.3" fill="none"/><path d="M468.8 61.0V71.0M467.5 61.0h2.6M467.5 71.0h2.6" stroke="#7a2a9a" stroke-width="1.3" fill="none"/><path d="M483.1 50.2V60.2M481.8 50.2h2.6M481.8 60.2h2.6" stroke="#7a2a9a" stroke-width="1.3" fill="none"/><path d="M497.4 53.7V63.7M496.1 53.7h2.6M496.1 63.7h2.6" stroke="#7a2a9a" stroke-width="1.3" fill="none"/><path d="M511.8 52.8V62.8M510.5 52.8h2.6M510.5 62.8h2.6" stroke="#7a2a9a" stroke-width="1.3" fill="none"/><path d="M526.1 59.8V69.8M524.8 59.8h2.6M524.8 69.8h2.6" stroke="#7a2a9a" stroke-width="1.3" fill="none"/><path d="M540.4 57.2V67.2M539.1 57.2h2.6M539.1 67.2h2.6" stroke="#7a2a9a" stroke-width="1.3" fill="none"/><path d="M554.7 57.7V67.7M553.4 57.7h2.6M553.4 67.7h2.6" stroke="#7a2a9a" stroke-width="1.3" fill="none"/>
<polyline points="397.2,49.6 411.5,57.4 425.8,55.0 440.2,53.0 454.5,62.9 468.8,60.4 483.1,55.2 497.4,54.3 511.8,46.5 526.1,49.5 540.4,50.0 554.7,50.0" fill="none" stroke="#38b8f0" stroke-width="1.7" stroke-linejoin="round"/><path d="M397.2 46.6V52.6M395.9 46.6h2.6M395.9 52.6h2.6" stroke="#38b8f0" stroke-width="1.3" fill="none"/><path d="M411.5 54.4V60.4M410.2 54.4h2.6M410.2 60.4h2.6" stroke="#38b8f0" stroke-width="1.3" fill="none"/><path d="M425.8 52.0V58.0M424.5 52.0h2.6M424.5 58.0h2.6" stroke="#38b8f0" stroke-width="1.3" fill="none"/><path d="M440.2 50.0V56.0M438.9 50.0h2.6M438.9 56.0h2.6" stroke="#38b8f0" stroke-width="1.3" fill="none"/><path d="M454.5 59.9V65.9M453.2 59.9h2.6M453.2 65.9h2.6" stroke="#38b8f0" stroke-width="1.3" fill="none"/><path d="M468.8 57.4V63.4M467.5 57.4h2.6M467.5 63.4h2.6" stroke="#38b8f0" stroke-width="1.3" fill="none"/><path d="M483.1 52.2V58.2M481.8 52.2h2.6M481.8 58.2h2.6" stroke="#38b8f0" stroke-width="1.3" fill="none"/><path d="M497.4 51.3V57.3M496.1 51.3h2.6M496.1 57.3h2.6" stroke="#38b8f0" stroke-width="1.3" fill="none"/><path d="M511.8 43.5V49.5M510.5 43.5h2.6M510.5 49.5h2.6" stroke="#38b8f0" stroke-width="1.3" fill="none"/><path d="M526.1 46.5V52.5M524.8 46.5h2.6M524.8 52.5h2.6" stroke="#38b8f0" stroke-width="1.3" fill="none"/><path d="M540.4 47.0V53.0M539.1 47.0h2.6M539.1 53.0h2.6" stroke="#38b8f0" stroke-width="1.3" fill="none"/><path d="M554.7 47.0V53.0M553.4 47.0h2.6M553.4 53.0h2.6" stroke="#38b8f0" stroke-width="1.3" fill="none"/>
<polyline points="397.2,51.5 411.5,53.0 425.8,51.5 440.2,52.5 454.5,54.5 468.8,52.3 483.1,53.5 497.4,51.7 511.8,49.5 526.1,52.0 540.4,51.5 554.7,51.2" fill="none" stroke="#f0a818" stroke-width="1.7" stroke-linejoin="round"/><path d="M397.2 48.5V54.5M395.9 48.5h2.6M395.9 54.5h2.6" stroke="#f0a818" stroke-width="1.3" fill="none"/><path d="M411.5 50.0V56.0M410.2 50.0h2.6M410.2 56.0h2.6" stroke="#f0a818" stroke-width="1.3" fill="none"/><path d="M425.8 48.5V54.5M424.5 48.5h2.6M424.5 54.5h2.6" stroke="#f0a818" stroke-width="1.3" fill="none"/><path d="M440.2 49.5V55.5M438.9 49.5h2.6M438.9 55.5h2.6" stroke="#f0a818" stroke-width="1.3" fill="none"/><path d="M454.5 51.5V57.5M453.2 51.5h2.6M453.2 57.5h2.6" stroke="#f0a818" stroke-width="1.3" fill="none"/><path d="M468.8 49.3V55.3M467.5 49.3h2.6M467.5 55.3h2.6" stroke="#f0a818" stroke-width="1.3" fill="none"/><path d="M483.1 50.5V56.5M481.8 50.5h2.6M481.8 56.5h2.6" stroke="#f0a818" stroke-width="1.3" fill="none"/><path d="M497.4 48.7V54.7M496.1 48.7h2.6M496.1 54.7h2.6" stroke="#f0a818" stroke-width="1.3" fill="none"/><path d="M511.8 46.5V52.5M510.5 46.5h2.6M510.5 52.5h2.6" stroke="#f0a818" stroke-width="1.3" fill="none"/><path d="M526.1 49.0V55.0M524.8 49.0h2.6M524.8 55.0h2.6" stroke="#f0a818" stroke-width="1.3" fill="none"/><path d="M540.4 48.5V54.5M539.1 48.5h2.6M539.1 54.5h2.6" stroke="#f0a818" stroke-width="1.3" fill="none"/><path d="M554.7 48.2V54.2M553.4 48.2h2.6M553.4 54.2h2.6" stroke="#f0a818" stroke-width="1.3" fill="none"/>
<polyline points="397.2,48.0 411.5,54.0 425.8,52.0 440.2,47.5 454.5,51.0 468.8,52.8 483.1,46.5 497.4,43.0 511.8,41.8 526.1,42.5 540.4,45.7 554.7,45.3" fill="none" stroke="#111111" stroke-width="1.7" stroke-linejoin="round"/><path d="M397.2 43.5V52.5M395.9 43.5h2.6M395.9 52.5h2.6" stroke="#111111" stroke-width="1.3" fill="none"/><path d="M411.5 49.5V58.5M410.2 49.5h2.6M410.2 58.5h2.6" stroke="#111111" stroke-width="1.3" fill="none"/><path d="M425.8 47.5V56.5M424.5 47.5h2.6M424.5 56.5h2.6" stroke="#111111" stroke-width="1.3" fill="none"/><path d="M440.2 43.0V52.0M438.9 43.0h2.6M438.9 52.0h2.6" stroke="#111111" stroke-width="1.3" fill="none"/><path d="M454.5 46.5V55.5M453.2 46.5h2.6M453.2 55.5h2.6" stroke="#111111" stroke-width="1.3" fill="none"/><path d="M468.8 48.3V57.3M467.5 48.3h2.6M467.5 57.3h2.6" stroke="#111111" stroke-width="1.3" fill="none"/><path d="M483.1 42.0V51.0M481.8 42.0h2.6M481.8 51.0h2.6" stroke="#111111" stroke-width="1.3" fill="none"/><path d="M497.4 38.5V47.5M496.1 38.5h2.6M496.1 47.5h2.6" stroke="#111111" stroke-width="1.3" fill="none"/><path d="M511.8 37.3V46.3M510.5 37.3h2.6M510.5 46.3h2.6" stroke="#111111" stroke-width="1.3" fill="none"/><path d="M526.1 38.0V47.0M524.8 38.0h2.6M524.8 47.0h2.6" stroke="#111111" stroke-width="1.3" fill="none"/><path d="M540.4 41.2V50.2M539.1 41.2h2.6M539.1 50.2h2.6" stroke="#111111" stroke-width="1.3" fill="none"/><path d="M554.7 40.8V49.8M553.4 40.8h2.6M553.4 49.8h2.6" stroke="#111111" stroke-width="1.3" fill="none"/>
<polyline points="397.2,46.6 411.5,51.7 425.8,46.1 440.2,46.4 454.5,50.3 468.8,47.3 483.1,47.4 497.4,46.5 511.8,42.2 526.1,50.0 540.4,46.5 554.7,47.4" fill="none" stroke="#5aa830" stroke-width="1.7" stroke-linejoin="round"/><path d="M397.2 43.6V49.6M395.9 43.6h2.6M395.9 49.6h2.6" stroke="#5aa830" stroke-width="1.3" fill="none"/><path d="M411.5 48.7V54.7M410.2 48.7h2.6M410.2 54.7h2.6" stroke="#5aa830" stroke-width="1.3" fill="none"/><path d="M425.8 43.1V49.1M424.5 43.1h2.6M424.5 49.1h2.6" stroke="#5aa830" stroke-width="1.3" fill="none"/><path d="M440.2 43.4V49.4M438.9 43.4h2.6M438.9 49.4h2.6" stroke="#5aa830" stroke-width="1.3" fill="none"/><path d="M454.5 47.3V53.3M453.2 47.3h2.6M453.2 53.3h2.6" stroke="#5aa830" stroke-width="1.3" fill="none"/><path d="M468.8 44.3V50.3M467.5 44.3h2.6M467.5 50.3h2.6" stroke="#5aa830" stroke-width="1.3" fill="none"/><path d="M483.1 44.4V50.4M481.8 44.4h2.6M481.8 50.4h2.6" stroke="#5aa830" stroke-width="1.3" fill="none"/><path d="M497.4 43.5V49.5M496.1 43.5h2.6M496.1 49.5h2.6" stroke="#5aa830" stroke-width="1.3" fill="none"/><path d="M511.8 39.2V45.2M510.5 39.2h2.6M510.5 45.2h2.6" stroke="#5aa830" stroke-width="1.3" fill="none"/><path d="M526.1 47.0V53.0M524.8 47.0h2.6M524.8 53.0h2.6" stroke="#5aa830" stroke-width="1.3" fill="none"/><path d="M540.4 43.5V49.5M539.1 43.5h2.6M539.1 49.5h2.6" stroke="#5aa830" stroke-width="1.3" fill="none"/><path d="M554.7 44.4V50.4M553.4 44.4h2.6M553.4 50.4h2.6" stroke="#5aa830" stroke-width="1.3" fill="none"/>
<polyline points="397.2,54.3 411.5,55.0 425.8,53.5 440.2,54.3 454.5,56.6 468.8,57.8 483.1,62.2 497.4,55.2 511.8,51.7 526.1,54.3 540.4,52.6 554.7,51.7" fill="none" stroke="#ff1a1a" stroke-width="1.7" stroke-linejoin="round"/><path d="M397.2 51.3V57.3M395.9 51.3h2.6M395.9 57.3h2.6" stroke="#ff1a1a" stroke-width="1.3" fill="none"/><path d="M411.5 52.0V58.0M410.2 52.0h2.6M410.2 58.0h2.6" stroke="#ff1a1a" stroke-width="1.3" fill="none"/><path d="M425.8 50.5V56.5M424.5 50.5h2.6M424.5 56.5h2.6" stroke="#ff1a1a" stroke-width="1.3" fill="none"/><path d="M440.2 51.3V57.3M438.9 51.3h2.6M438.9 57.3h2.6" stroke="#ff1a1a" stroke-width="1.3" fill="none"/><path d="M454.5 53.6V59.6M453.2 53.6h2.6M453.2 59.6h2.6" stroke="#ff1a1a" stroke-width="1.3" fill="none"/><path d="M468.8 54.8V60.8M467.5 54.8h2.6M467.5 60.8h2.6" stroke="#ff1a1a" stroke-width="1.3" fill="none"/><path d="M483.1 59.2V65.2M481.8 59.2h2.6M481.8 65.2h2.6" stroke="#ff1a1a" stroke-width="1.3" fill="none"/><path d="M497.4 52.2V58.2M496.1 52.2h2.6M496.1 58.2h2.6" stroke="#ff1a1a" stroke-width="1.3" fill="none"/><path d="M511.8 48.7V54.7M510.5 48.7h2.6M510.5 54.7h2.6" stroke="#ff1a1a" stroke-width="1.3" fill="none"/><path d="M526.1 51.3V57.3M524.8 51.3h2.6M524.8 57.3h2.6" stroke="#ff1a1a" stroke-width="1.3" fill="none"/><path d="M540.4 49.6V55.6M539.1 49.6h2.6M539.1 55.6h2.6" stroke="#ff1a1a" stroke-width="1.3" fill="none"/><path d="M554.7 48.7V54.7M553.4 48.7h2.6M553.4 54.7h2.6" stroke="#ff1a1a" stroke-width="1.3" fill="none"/>
<rect x="404.2" y="162.6" width="151.8" height="35.2" fill="#fff" stroke="#999" stroke-width="0.7"/>
<path d="M406.2 169.2h14M413.2 165.7v7M411.9 165.7h2.6M411.9 172.7h2.6" stroke="#1a6ec0" stroke-width="1.3" fill="none"/>
<text x="420.80" y="172.20" font-size="8.2" font-weight="bold" fill="#111" >array A</text>
<path d="M406.2 181.0h14M413.2 177.5v7M411.9 177.5h2.6M411.9 184.5h2.6" stroke="#111111" stroke-width="1.3" fill="none"/>
<text x="420.80" y="184.00" font-size="8.2" font-weight="bold" fill="#111" >array B</text>
<path d="M406.2 192.5h14M413.2 189.0v7M411.9 189.0h2.6M411.9 196.0h2.6" stroke="#f0a818" stroke-width="1.3" fill="none"/>
<text x="420.80" y="195.50" font-size="8.2" font-weight="bold" fill="#111" >array C</text>
<path d="M457.7 169.2h14M464.7 165.7v7M463.4 165.7h2.6M463.4 172.7h2.6" stroke="#7a2a9a" stroke-width="1.3" fill="none"/>
<text x="472.30" y="172.20" font-size="8.2" font-weight="bold" fill="#111" >array D</text>
<path d="M457.7 181.0h14M464.7 177.5v7M463.4 177.5h2.6M463.4 184.5h2.6" stroke="#5aa830" stroke-width="1.3" fill="none"/>
<text x="472.30" y="184.00" font-size="8.2" font-weight="bold" fill="#111" >array E</text>
<path d="M457.7 192.5h14M464.7 189.0v7M463.4 189.0h2.6M463.4 196.0h2.6" stroke="#38b8f0" stroke-width="1.3" fill="none"/>
<text x="472.30" y="195.50" font-size="8.2" font-weight="bold" fill="#111" >array F</text>
<path d="M508.8 169.2h14M515.8 165.7v7M514.5 165.7h2.6M514.5 172.7h2.6" stroke="#ff1a1a" stroke-width="1.3" fill="none"/>
<text x="523.40" y="172.20" font-size="8.2" font-weight="bold" fill="#111" >array G</text>
<text x="2.50" y="208.90" font-size="10.5" stroke="#000" stroke-width="0.3" font-weight="bold" >C</text>
<rect x="34.2" y="212.0" width="538.8" height="122.0" rx="1.5" fill="none" stroke="#d0d0d0" stroke-width="1.6"/>
<rect x="34.2" y="339.6" width="538.6" height="127.2" rx="1.5" fill="none" stroke="#d0d0d0" stroke-width="1.6"/>
<text x="41.50" y="221.30" font-size="8.6" font-weight="bold" >Week 3</text>
<rect x="41.5" y="222.3" width="28.2" height="0.8" fill="#111"/>
<text x="41.50" y="349.80" font-size="8.6" font-weight="bold" >Week 52</text>
<rect x="41.5" y="350.8" width="33.6" height="0.8" fill="#111"/>
<line x1="37.4" y1="235.0" x2="38.8" y2="235.0" stroke="#d88070" stroke-width="0.7"/><line x1="39.0" y1="275.5" x2="39.0" y2="276.9" stroke="#d88070" stroke-width="0.7"/><line x1="37.4" y1="240.8" x2="38.8" y2="240.8" stroke="#d88070" stroke-width="0.7"/><line x1="44.7" y1="275.5" x2="44.7" y2="276.9" stroke="#d88070" stroke-width="0.7"/><line x1="37.4" y1="246.5" x2="38.8" y2="246.5" stroke="#d88070" stroke-width="0.7"/><line x1="50.4" y1="275.5" x2="50.4" y2="276.9" stroke="#d88070" stroke-width="0.7"/><line x1="37.4" y1="252.3" x2="38.8" y2="252.3" stroke="#d88070" stroke-width="0.7"/><line x1="56.1" y1="275.5" x2="56.1" y2="276.9" stroke="#d88070" stroke-width="0.7"/><line x1="37.4" y1="258.0" x2="38.8" y2="258.0" stroke="#d88070" stroke-width="0.7"/><line x1="61.9" y1="275.5" x2="61.9" y2="276.9" stroke="#d88070" stroke-width="0.7"/><line x1="37.4" y1="263.8" x2="38.8" y2="263.8" stroke="#d88070" stroke-width="0.7"/><line x1="67.6" y1="275.5" x2="67.6" y2="276.9" stroke="#d88070" stroke-width="0.7"/><line x1="37.4" y1="269.5" x2="38.8" y2="269.5" stroke="#d88070" stroke-width="0.7"/><line x1="73.3" y1="275.5" x2="73.3" y2="276.9" stroke="#d88070" stroke-width="0.7"/><line x1="37.4" y1="275.3" x2="38.8" y2="275.3" stroke="#d88070" stroke-width="0.7"/><line x1="79.0" y1="275.5" x2="79.0" y2="276.9" stroke="#d88070" stroke-width="0.7"/>
<svg x="39.00" y="235.00" width="40.00" height="40.30" viewBox="0 0 100 100" preserveAspectRatio="none"><g filter="url(#jet)"><rect x="-5" y="-5" width="110" height="110" fill="rgb(87,87,87)"/><ellipse cx="4.0" cy="34.0" rx="15.8" ry="21.1" fill="url(#gn)" opacity="0.20"/><ellipse cx="23.0" cy="9.0" rx="26.3" ry="15.8" fill="url(#gn)" opacity="0.20"/><ellipse cx="55.0" cy="48.0" rx="13.2" ry="13.2" fill="url(#gn)" opacity="0.20"/><ellipse cx="37.0" cy="71.0" rx="21.1" ry="15.8" fill="url(#gn)" opacity="0.20"/><ellipse cx="65.0" cy="83.0" rx="21.1" ry="15.8" fill="url(#gn)" opacity="0.20"/><ellipse cx="10.0" cy="90.0" rx="21.1" ry="15.8" fill="url(#gn)" opacity="0.20"/><ellipse cx="81.0" cy="34.0" rx="18.4" ry="26.3" fill="url(#gs)" opacity="0.08"/><ellipse cx="62.0" cy="67.0" rx="18.4" ry="18.4" fill="url(#gs)" opacity="0.08"/><ellipse cx="33.3" cy="39.3" rx="18.0" ry="30.3" fill="url(#gp)" opacity="1.00"/></g></svg>
<rect x="80.70" y="235.00" width="3.00" height="40.30" fill="url(#jetv)"/>
<text x="85.50" y="237.30" font-size="6.3" stroke="#111" stroke-width="0.1" fill="#111" >122</text>
<text x="85.50" y="250.73" font-size="6.3" stroke="#111" stroke-width="0.1" fill="#111" >61</text>
<text x="85.50" y="264.17" font-size="6.3" stroke="#111" stroke-width="0.1" fill="#111" >0</text>
<text x="85.50" y="277.60" font-size="6.3" stroke="#111" stroke-width="0.1" fill="#111" >-61</text>
<text x="55.10" y="232.90" font-size="7.8" textLength="12.8" lengthAdjust="spacingAndGlyphs" fill="#111" stroke="#111" stroke-width="0.12">Ch 2</text>
<rect x="55.1" y="233.1" width="12.8" height="0.7" fill="#333"/>
<line x1="102.4" y1="235.0" x2="103.8" y2="235.0" stroke="#d88070" stroke-width="0.7"/><line x1="104.0" y1="275.5" x2="104.0" y2="276.9" stroke="#d88070" stroke-width="0.7"/><line x1="102.4" y1="240.8" x2="103.8" y2="240.8" stroke="#d88070" stroke-width="0.7"/><line x1="109.7" y1="275.5" x2="109.7" y2="276.9" stroke="#d88070" stroke-width="0.7"/><line x1="102.4" y1="246.5" x2="103.8" y2="246.5" stroke="#d88070" stroke-width="0.7"/><line x1="115.4" y1="275.5" x2="115.4" y2="276.9" stroke="#d88070" stroke-width="0.7"/><line x1="102.4" y1="252.3" x2="103.8" y2="252.3" stroke="#d88070" stroke-width="0.7"/><line x1="121.1" y1="275.5" x2="121.1" y2="276.9" stroke="#d88070" stroke-width="0.7"/><line x1="102.4" y1="258.0" x2="103.8" y2="258.0" stroke="#d88070" stroke-width="0.7"/><line x1="126.8" y1="275.5" x2="126.8" y2="276.9" stroke="#d88070" stroke-width="0.7"/><line x1="102.4" y1="263.8" x2="103.8" y2="263.8" stroke="#d88070" stroke-width="0.7"/><line x1="132.5" y1="275.5" x2="132.5" y2="276.9" stroke="#d88070" stroke-width="0.7"/><line x1="102.4" y1="269.5" x2="103.8" y2="269.5" stroke="#d88070" stroke-width="0.7"/><line x1="138.2" y1="275.5" x2="138.2" y2="276.9" stroke="#d88070" stroke-width="0.7"/><line x1="102.4" y1="275.3" x2="103.8" y2="275.3" stroke="#d88070" stroke-width="0.7"/><line x1="144.0" y1="275.5" x2="144.0" y2="276.9" stroke="#d88070" stroke-width="0.7"/>
<svg x="103.96" y="235.00" width="40.00" height="40.30" viewBox="0 0 100 100" preserveAspectRatio="none"><g filter="url(#jet)"><rect x="-5" y="-5" width="110" height="110" fill="rgb(87,87,87)"/><ellipse cx="33.0" cy="9.0" rx="26.3" ry="15.8" fill="url(#gn)" opacity="0.20"/><ellipse cx="83.0" cy="33.0" rx="18.4" ry="21.1" fill="url(#gn)" opacity="0.20"/><ellipse cx="28.0" cy="72.0" rx="21.1" ry="15.8" fill="url(#gn)" opacity="0.20"/><ellipse cx="80.0" cy="78.0" rx="26.3" ry="15.8" fill="url(#gn)" opacity="0.20"/><ellipse cx="60.0" cy="55.0" rx="21.1" ry="21.1" fill="url(#gs)" opacity="0.08"/><ellipse cx="32.5" cy="42.0" rx="21.1" ry="24.3" fill="url(#gp)" opacity="1.00"/></g></svg>
<rect x="145.66" y="235.00" width="3.00" height="40.30" fill="url(#jetv)"/>
<text x="150.46" y="237.30" font-size="6.3" stroke="#111" stroke-width="0.1" fill="#111" >174</text>
<text x="150.46" y="250.73" font-size="6.3" stroke="#111" stroke-width="0.1" fill="#111" >87</text>
<text x="150.46" y="264.17" font-size="6.3" stroke="#111" stroke-width="0.1" fill="#111" >0</text>
<text x="150.46" y="277.60" font-size="6.3" stroke="#111" stroke-width="0.1" fill="#111" >-87</text>
<text x="120.06" y="232.90" font-size="7.8" textLength="12.8" lengthAdjust="spacingAndGlyphs" fill="#111" stroke="#111" stroke-width="0.12">Ch 4</text>
<rect x="120.1" y="233.1" width="12.8" height="0.7" fill="#333"/>
<line x1="167.3" y1="235.0" x2="168.7" y2="235.0" stroke="#d88070" stroke-width="0.7"/><line x1="168.9" y1="275.5" x2="168.9" y2="276.9" stroke="#d88070" stroke-width="0.7"/><line x1="167.3" y1="240.8" x2="168.7" y2="240.8" stroke="#d88070" stroke-width="0.7"/><line x1="174.6" y1="275.5" x2="174.6" y2="276.9" stroke="#d88070" stroke-width="0.7"/><line x1="167.3" y1="246.5" x2="168.7" y2="246.5" stroke="#d88070" stroke-width="0.7"/><line x1="180.3" y1="275.5" x2="180.3" y2="276.9" stroke="#d88070" stroke-width="0.7"/><line x1="167.3" y1="252.3" x2="168.7" y2="252.3" stroke="#d88070" stroke-width="0.7"/><line x1="186.1" y1="275.5" x2="186.1" y2="276.9" stroke="#d88070" stroke-width="0.7"/><line x1="167.3" y1="258.0" x2="168.7" y2="258.0" stroke="#d88070" stroke-width="0.7"/><line x1="191.8" y1="275.5" x2="191.8" y2="276.9" stroke="#d88070" stroke-width="0.7"/><line x1="167.3" y1="263.8" x2="168.7" y2="263.8" stroke="#d88070" stroke-width="0.7"/><line x1="197.5" y1="275.5" x2="197.5" y2="276.9" stroke="#d88070" stroke-width="0.7"/><line x1="167.3" y1="269.5" x2="168.7" y2="269.5" stroke="#d88070" stroke-width="0.7"/><line x1="203.2" y1="275.5" x2="203.2" y2="276.9" stroke="#d88070" stroke-width="0.7"/><line x1="167.3" y1="275.3" x2="168.7" y2="275.3" stroke="#d88070" stroke-width="0.7"/><line x1="208.9" y1="275.5" x2="208.9" y2="276.9" stroke="#d88070" stroke-width="0.7"/>
<svg x="168.92" y="235.00" width="40.00" height="40.30" viewBox="0 0 100 100" preserveAspectRatio="none"><g filter="url(#jet)"><rect x="-5" y="-5" width="110" height="110" fill="rgb(87,87,87)"/><ellipse cx="40.0" cy="5.0" rx="52.6" ry="13.2" fill="url(#gn)" opacity="0.20"/><ellipse cx="37.0" cy="73.0" rx="18.4" ry="15.8" fill="url(#gn)" opacity="0.36"/><ellipse cx="63.0" cy="67.0" rx="18.4" ry="18.4" fill="url(#gn)" opacity="0.20"/><ellipse cx="7.0" cy="87.0" rx="18.4" ry="18.4" fill="url(#gn)" opacity="0.20"/><ellipse cx="12.0" cy="64.0" rx="15.8" ry="15.8" fill="url(#gs)" opacity="0.08"/><ellipse cx="81.0" cy="36.0" rx="18.4" ry="18.4" fill="url(#gs)" opacity="0.08"/><ellipse cx="90.0" cy="95.0" rx="21.1" ry="13.2" fill="url(#gn)" opacity="0.20"/><ellipse cx="36.0" cy="55.0" rx="13.2" ry="21.1" fill="url(#gs)" opacity="0.17"/><ellipse cx="34.2" cy="35.3" rx="21.1" ry="25.7" fill="url(#gp)" opacity="1.00"/></g></svg>
<rect x="210.62" y="235.00" width="3.00" height="40.30" fill="url(#jetv)"/>
<text x="215.42" y="237.30" font-size="6.3" stroke="#111" stroke-width="0.1" fill="#111" >97</text>
<text x="215.42" y="250.73" font-size="6.3" stroke="#111" stroke-width="0.1" fill="#111" >48.5</text>
<text x="215.42" y="264.17" font-size="6.3" stroke="#111" stroke-width="0.1" fill="#111" >0</text>
<text x="215.42" y="277.60" font-size="6.3" stroke="#111" stroke-width="0.1" fill="#111" >-48.5</text>
<text x="185.02" y="232.90" font-size="7.8" textLength="12.8" lengthAdjust="spacingAndGlyphs" fill="#111" stroke="#111" stroke-width="0.12">Ch 6</text>
<rect x="185.0" y="233.1" width="12.8" height="0.7" fill="#333"/>
<line x1="232.3" y1="235.0" x2="233.7" y2="235.0" stroke="#d88070" stroke-width="0.7"/><line x1="233.9" y1="275.5" x2="233.9" y2="276.9" stroke="#d88070" stroke-width="0.7"/><line x1="232.3" y1="240.8" x2="233.7" y2="240.8" stroke="#d88070" stroke-width="0.7"/><line x1="239.6" y1="275.5" x2="239.6" y2="276.9" stroke="#d88070" stroke-width="0.7"/><line x1="232.3" y1="246.5" x2="233.7" y2="246.5" stroke="#d88070" stroke-width="0.7"/><line x1="245.3" y1="275.5" x2="245.3" y2="276.9" stroke="#d88070" stroke-width="0.7"/><line x1="232.3" y1="252.3" x2="233.7" y2="252.3" stroke="#d88070" stroke-width="0.7"/><line x1="251.0" y1="275.5" x2="251.0" y2="276.9" stroke="#d88070" stroke-width="0.7"/><line x1="232.3" y1="258.0" x2="233.7" y2="258.0" stroke="#d88070" stroke-width="0.7"/><line x1="256.7" y1="275.5" x2="256.7" y2="276.9" stroke="#d88070" stroke-width="0.7"/><line x1="232.3" y1="263.8" x2="233.7" y2="263.8" stroke="#d88070" stroke-width="0.7"/><line x1="262.5" y1="275.5" x2="262.5" y2="276.9" stroke="#d88070" stroke-width="0.7"/><line x1="232.3" y1="269.5" x2="233.7" y2="269.5" stroke="#d88070" stroke-width="0.7"/><line x1="268.2" y1="275.5" x2="268.2" y2="276.9" stroke="#d88070" stroke-width="0.7"/><line x1="232.3" y1="275.3" x2="233.7" y2="275.3" stroke="#d88070" stroke-width="0.7"/><line x1="273.9" y1="275.5" x2="273.9" y2="276.9" stroke="#d88070" stroke-width="0.7"/>
<svg x="233.88" y="235.00" width="40.00" height="40.30" viewBox="0 0 100 100" preserveAspectRatio="none"><g filter="url(#jet)"><rect x="-5" y="-5" width="110" height="110" fill="rgb(87,87,87)"/><ellipse cx="58.0" cy="32.0" rx="18.4" ry="18.4" fill="url(#gn)" opacity="0.20"/><ellipse cx="86.0" cy="80.0" rx="21.1" ry="21.1" fill="url(#gn)" opacity="0.20"/><ellipse cx="28.0" cy="8.0" rx="26.3" ry="13.2" fill="url(#gn)" opacity="0.20"/><ellipse cx="70.0" cy="50.0" rx="18.4" ry="18.4" fill="url(#gs)" opacity="0.08"/><ellipse cx="40.0" cy="60.0" rx="13.2" ry="15.8" fill="url(#gs)" opacity="0.17"/><ellipse cx="32.6" cy="35.3" rx="20.4" ry="25.0" fill="url(#gp)" opacity="1.00"/></g></svg>
<rect x="275.58" y="235.00" width="3.00" height="40.30" fill="url(#jetv)"/>
<text x="280.38" y="237.30" font-size="6.3" stroke="#111" stroke-width="0.1" fill="#111" >133</text>
<text x="280.38" y="250.73" font-size="6.3" stroke="#111" stroke-width="0.1" fill="#111" >66.5</text>
<text x="280.38" y="264.17" font-size="6.3" stroke="#111" stroke-width="0.1" fill="#111" >0</text>
<text x="280.38" y="277.60" font-size="6.3" stroke="#111" stroke-width="0.1" fill="#111" >-66.5</text>
<text x="249.98" y="232.90" font-size="7.8" textLength="12.8" lengthAdjust="spacingAndGlyphs" fill="#111" stroke="#111" stroke-width="0.12">Ch 8</text>
<rect x="250.0" y="233.1" width="12.8" height="0.7" fill="#333"/>
<line x1="297.2" y1="235.0" x2="298.6" y2="235.0" stroke="#d88070" stroke-width="0.7"/><line x1="298.8" y1="275.5" x2="298.8" y2="276.9" stroke="#d88070" stroke-width="0.7"/><line x1="297.2" y1="240.8" x2="298.6" y2="240.8" stroke="#d88070" stroke-width="0.7"/><line x1="304.6" y1="275.5" x2="304.6" y2="276.9" stroke="#d88070" stroke-width="0.7"/><line x1="297.2" y1="246.5" x2="298.6" y2="246.5" stroke="#d88070" stroke-width="0.7"/><line x1="310.3" y1="275.5" x2="310.3" y2="276.9" stroke="#d88070" stroke-width="0.7"/><line x1="297.2" y1="252.3" x2="298.6" y2="252.3" stroke="#d88070" stroke-width="0.7"/><line x1="316.0" y1="275.5" x2="316.0" y2="276.9" stroke="#d88070" stroke-width="0.7"/><line x1="297.2" y1="258.0" x2="298.6" y2="258.0" stroke="#d88070" stroke-width="0.7"/><line x1="321.7" y1="275.5" x2="321.7" y2="276.9" stroke="#d88070" stroke-width="0.7"/><line x1="297.2" y1="263.8" x2="298.6" y2="263.8" stroke="#d88070" stroke-width="0.7"/><line x1="327.4" y1="275.5" x2="327.4" y2="276.9" stroke="#d88070" stroke-width="0.7"/><line x1="297.2" y1="269.5" x2="298.6" y2="269.5" stroke="#d88070" stroke-width="0.7"/><line x1="333.1" y1="275.5" x2="333.1" y2="276.9" stroke="#d88070" stroke-width="0.7"/><line x1="297.2" y1="275.3" x2="298.6" y2="275.3" stroke="#d88070" stroke-width="0.7"/><line x1="338.8" y1="275.5" x2="338.8" y2="276.9" stroke="#d88070" stroke-width="0.7"/>
<svg x="298.84" y="235.00" width="40.00" height="40.30" viewBox="0 0 100 100" preserveAspectRatio="none"><g filter="url(#jet)"><rect x="-5" y="-5" width="110" height="110" fill="rgb(87,87,87)"/><ellipse cx="33.7" cy="9.0" rx="21.1" ry="15.8" fill="url(#gn)" opacity="0.36"/><ellipse cx="56.0" cy="33.0" rx="15.8" ry="15.8" fill="url(#gn)" opacity="0.36"/><ellipse cx="84.0" cy="48.0" rx="18.4" ry="18.4" fill="url(#gn)" opacity="0.36"/><ellipse cx="35.0" cy="60.0" rx="18.4" ry="18.4" fill="url(#gn)" opacity="0.20"/><ellipse cx="51.0" cy="85.0" rx="21.1" ry="15.8" fill="url(#gn)" opacity="0.36"/><ellipse cx="7.0" cy="36.0" rx="13.2" ry="18.4" fill="url(#gn)" opacity="0.20"/><ellipse cx="12.0" cy="64.0" rx="15.8" ry="15.8" fill="url(#gs)" opacity="0.08"/><ellipse cx="28.0" cy="87.0" rx="15.8" ry="15.8" fill="url(#gs)" opacity="0.08"/><ellipse cx="33.7" cy="34.2" rx="17.3" ry="17.2" fill="url(#gp)" opacity="1.00"/></g></svg>
<rect x="340.54" y="235.00" width="3.00" height="40.30" fill="url(#jetv)"/>
<text x="345.34" y="237.30" font-size="6.3" stroke="#111" stroke-width="0.1" fill="#111" >81</text>
<text x="345.34" y="250.73" font-size="6.3" stroke="#111" stroke-width="0.1" fill="#111" >40.5</text>
<text x="345.34" y="264.17" font-size="6.3" stroke="#111" stroke-width="0.1" fill="#111" >0</text>
<text x="345.34" y="277.60" font-size="6.3" stroke="#111" stroke-width="0.1" fill="#111" >-40.5</text>
<text x="312.84" y="232.90" font-size="7.8" textLength="17.0" lengthAdjust="spacingAndGlyphs" fill="#111" stroke="#111" stroke-width="0.12">Ch 10</text>
<rect x="312.8" y="233.1" width="17.0" height="0.7" fill="#333"/>
<line x1="362.2" y1="235.0" x2="363.6" y2="235.0" stroke="#d88070" stroke-width="0.7"/><line x1="363.8" y1="275.5" x2="363.8" y2="276.9" stroke="#d88070" stroke-width="0.7"/><line x1="362.2" y1="240.8" x2="363.6" y2="240.8" stroke="#d88070" stroke-width="0.7"/><line x1="369.5" y1="275.5" x2="369.5" y2="276.9" stroke="#d88070" stroke-width="0.7"/><line x1="362.2" y1="246.5" x2="363.6" y2="246.5" stroke="#d88070" stroke-width="0.7"/><line x1="375.2" y1="275.5" x2="375.2" y2="276.9" stroke="#d88070" stroke-width="0.7"/><line x1="362.2" y1="252.3" x2="363.6" y2="252.3" stroke="#d88070" stroke-width="0.7"/><line x1="380.9" y1="275.5" x2="380.9" y2="276.9" stroke="#d88070" stroke-width="0.7"/><line x1="362.2" y1="258.0" x2="363.6" y2="258.0" stroke="#d88070" stroke-width="0.7"/><line x1="386.7" y1="275.5" x2="386.7" y2="276.9" stroke="#d88070" stroke-width="0.7"/><line x1="362.2" y1="263.8" x2="363.6" y2="263.8" stroke="#d88070" stroke-width="0.7"/><line x1="392.4" y1="275.5" x2="392.4" y2="276.9" stroke="#d88070" stroke-width="0.7"/><line x1="362.2" y1="269.5" x2="363.6" y2="269.5" stroke="#d88070" stroke-width="0.7"/><line x1="398.1" y1="275.5" x2="398.1" y2="276.9" stroke="#d88070" stroke-width="0.7"/><line x1="362.2" y1="275.3" x2="363.6" y2="275.3" stroke="#d88070" stroke-width="0.7"/><line x1="403.8" y1="275.5" x2="403.8" y2="276.9" stroke="#d88070" stroke-width="0.7"/>
<svg x="363.80" y="235.00" width="40.00" height="40.30" viewBox="0 0 100 100" preserveAspectRatio="none"><g filter="url(#jet)"><rect x="-5" y="-5" width="110" height="110" fill="rgb(87,87,87)"/><ellipse cx="34.0" cy="6.5" rx="21.1" ry="13.2" fill="url(#gn)" opacity="0.36"/><ellipse cx="7.0" cy="31.0" rx="13.2" ry="18.4" fill="url(#gn)" opacity="0.36"/><ellipse cx="56.0" cy="34.0" rx="18.4" ry="18.4" fill="url(#gn)" opacity="0.20"/><ellipse cx="84.0" cy="46.0" rx="18.4" ry="18.4" fill="url(#gn)" opacity="0.36"/><ellipse cx="67.0" cy="67.0" rx="21.1" ry="13.2" fill="url(#gs)" opacity="0.17"/><ellipse cx="52.0" cy="52.0" rx="31.6" ry="10.5" fill="url(#gs)" opacity="0.08" transform="rotate(40 52.0 52.0)"/><ellipse cx="40.0" cy="83.0" rx="21.1" ry="21.1" fill="url(#gn)" opacity="0.20"/><ellipse cx="90.0" cy="86.0" rx="15.8" ry="15.8" fill="url(#gn)" opacity="0.20"/><ellipse cx="33.0" cy="33.0" rx="16.5" ry="17.2" fill="url(#gp)" opacity="1.00"/></g></svg>
<rect x="405.50" y="235.00" width="3.00" height="40.30" fill="url(#jetv)"/>
<text x="410.30" y="237.30" font-size="6.3" stroke="#111" stroke-width="0.1" fill="#111" >108</text>
<text x="410.30" y="250.73" font-size="6.3" stroke="#111" stroke-width="0.1" fill="#111" >54</text>
<text x="410.30" y="264.17" font-size="6.3" stroke="#111" stroke-width="0.1" fill="#111" >0</text>
<text x="410.30" y="277.60" font-size="6.3" stroke="#111" stroke-width="0.1" fill="#111" >-54</text>
<text x="377.80" y="232.90" font-size="7.8" textLength="17.0" lengthAdjust="spacingAndGlyphs" fill="#111" stroke="#111" stroke-width="0.12">Ch 12</text>
<rect x="377.8" y="233.1" width="17.0" height="0.7" fill="#333"/>
<line x1="427.2" y1="235.0" x2="428.6" y2="235.0" stroke="#d88070" stroke-width="0.7"/><line x1="428.8" y1="275.5" x2="428.8" y2="276.9" stroke="#d88070" stroke-width="0.7"/><line x1="427.2" y1="240.8" x2="428.6" y2="240.8" stroke="#d88070" stroke-width="0.7"/><line x1="434.5" y1="275.5" x2="434.5" y2="276.9" stroke="#d88070" stroke-width="0.7"/><line x1="427.2" y1="246.5" x2="428.6" y2="246.5" stroke="#d88070" stroke-width="0.7"/><line x1="440.2" y1="275.5" x2="440.2" y2="276.9" stroke="#d88070" stroke-width="0.7"/><line x1="427.2" y1="252.3" x2="428.6" y2="252.3" stroke="#d88070" stroke-width="0.7"/><line x1="445.9" y1="275.5" x2="445.9" y2="276.9" stroke="#d88070" stroke-width="0.7"/><line x1="427.2" y1="258.0" x2="428.6" y2="258.0" stroke="#d88070" stroke-width="0.7"/><line x1="451.6" y1="275.5" x2="451.6" y2="276.9" stroke="#d88070" stroke-width="0.7"/><line x1="427.2" y1="263.8" x2="428.6" y2="263.8" stroke="#d88070" stroke-width="0.7"/><line x1="457.3" y1="275.5" x2="457.3" y2="276.9" stroke="#d88070" stroke-width="0.7"/><line x1="427.2" y1="269.5" x2="428.6" y2="269.5" stroke="#d88070" stroke-width="0.7"/><line x1="463.0" y1="275.5" x2="463.0" y2="276.9" stroke="#d88070" stroke-width="0.7"/><line x1="427.2" y1="275.3" x2="428.6" y2="275.3" stroke="#d88070" stroke-width="0.7"/><line x1="468.8" y1="275.5" x2="468.8" y2="276.9" stroke="#d88070" stroke-width="0.7"/>
<svg x="428.76" y="235.00" width="40.00" height="40.30" viewBox="0 0 100 100" preserveAspectRatio="none"><g filter="url(#jet)"><rect x="-5" y="-5" width="110" height="110" fill="rgb(87,87,87)"/><ellipse cx="56.0" cy="33.0" rx="15.8" ry="15.8" fill="url(#gn)" opacity="0.36"/><ellipse cx="84.0" cy="13.0" rx="21.1" ry="21.1" fill="url(#gn)" opacity="0.20"/><ellipse cx="79.0" cy="48.0" rx="18.4" ry="18.4" fill="url(#gn)" opacity="0.20"/><ellipse cx="40.0" cy="69.0" rx="42.1" ry="13.2" fill="url(#gn)" opacity="0.20"/><ellipse cx="7.0" cy="32.0" rx="13.2" ry="18.4" fill="url(#gn)" opacity="0.20"/><ellipse cx="65.0" cy="55.0" rx="18.4" ry="18.4" fill="url(#gs)" opacity="0.08"/><ellipse cx="33.0" cy="34.0" rx="16.5" ry="18.0" fill="url(#gp)" opacity="1.00"/></g></svg>
<rect x="470.46" y="235.00" width="3.00" height="40.30" fill="url(#jetv)"/>
<text x="475.26" y="237.30" font-size="6.3" stroke="#111" stroke-width="0.1" fill="#111" >125</text>
<text x="475.26" y="250.73" font-size="6.3" stroke="#111" stroke-width="0.1" fill="#111" >62.5</text>
<text x="475.26" y="264.17" font-size="6.3" stroke="#111" stroke-width="0.1" fill="#111" >0</text>
<text x="475.26" y="277.60" font-size="6.3" stroke="#111" stroke-width="0.1" fill="#111" >-62.5</text>
<text x="442.76" y="232.90" font-size="7.8" textLength="17.0" lengthAdjust="spacingAndGlyphs" fill="#111" stroke="#111" stroke-width="0.12">Ch 14</text>
<rect x="442.8" y="233.1" width="17.0" height="0.7" fill="#333"/>
<line x1="492.1" y1="235.0" x2="493.5" y2="235.0" stroke="#d88070" stroke-width="0.7"/><line x1="493.7" y1="275.5" x2="493.7" y2="276.9" stroke="#d88070" stroke-width="0.7"/><line x1="492.1" y1="240.8" x2="493.5" y2="240.8" stroke="#d88070" stroke-width="0.7"/><line x1="499.4" y1="275.5" x2="499.4" y2="276.9" stroke="#d88070" stroke-width="0.7"/><line x1="492.1" y1="246.5" x2="493.5" y2="246.5" stroke="#d88070" stroke-width="0.7"/><line x1="505.1" y1="275.5" x2="505.1" y2="276.9" stroke="#d88070" stroke-width="0.7"/><line x1="492.1" y1="252.3" x2="493.5" y2="252.3" stroke="#d88070" stroke-width="0.7"/><line x1="510.9" y1="275.5" x2="510.9" y2="276.9" stroke="#d88070" stroke-width="0.7"/><line x1="492.1" y1="258.0" x2="493.5" y2="258.0" stroke="#d88070" stroke-width="0.7"/><line x1="516.6" y1="275.5" x2="516.6" y2="276.9" stroke="#d88070" stroke-width="0.7"/><line x1="492.1" y1="263.8" x2="493.5" y2="263.8" stroke="#d88070" stroke-width="0.7"/><line x1="522.3" y1="275.5" x2="522.3" y2="276.9" stroke="#d88070" stroke-width="0.7"/><line x1="492.1" y1="269.5" x2="493.5" y2="269.5" stroke="#d88070" stroke-width="0.7"/><line x1="528.0" y1="275.5" x2="528.0" y2="276.9" stroke="#d88070" stroke-width="0.7"/><line x1="492.1" y1="275.3" x2="493.5" y2="275.3" stroke="#d88070" stroke-width="0.7"/><line x1="533.7" y1="275.5" x2="533.7" y2="276.9" stroke="#d88070" stroke-width="0.7"/>
<svg x="493.72" y="235.00" width="40.00" height="40.30" viewBox="0 0 100 100" preserveAspectRatio="none"><g filter="url(#jet)"><rect x="-5" y="-5" width="110" height="110" fill="rgb(87,87,87)"/><ellipse cx="33.0" cy="10.0" rx="21.1" ry="13.2" fill="url(#gn)" opacity="0.36"/><ellipse cx="56.0" cy="28.0" rx="15.8" ry="15.8" fill="url(#gn)" opacity="0.20"/><ellipse cx="70.0" cy="48.0" rx="18.4" ry="18.4" fill="url(#gn)" opacity="0.36"/><ellipse cx="5.0" cy="34.0" rx="13.2" ry="21.1" fill="url(#gn)" opacity="0.20"/><ellipse cx="65.0" cy="32.0" rx="13.2" ry="13.2" fill="url(#gs)" opacity="0.08"/><ellipse cx="51.0" cy="52.0" rx="18.4" ry="10.5" fill="url(#gs)" opacity="0.17"/><ellipse cx="40.0" cy="76.0" rx="26.3" ry="13.2" fill="url(#gn)" opacity="0.20"/><ellipse cx="92.0" cy="94.0" rx="15.8" ry="15.8" fill="url(#gn)" opacity="0.20"/><ellipse cx="32.0" cy="34.0" rx="16.5" ry="18.0" fill="url(#gp)" opacity="1.00"/></g></svg>
<rect x="535.42" y="235.00" width="3.00" height="40.30" fill="url(#jetv)"/>
<text x="540.22" y="237.30" font-size="6.3" stroke="#111" stroke-width="0.1" fill="#111" >71</text>
<text x="540.22" y="250.73" font-size="6.3" stroke="#111" stroke-width="0.1" fill="#111" >35.5</text>
<text x="540.22" y="264.17" font-size="6.3" stroke="#111" stroke-width="0.1" fill="#111" >0</text>
<text x="540.22" y="277.60" font-size="6.3" stroke="#111" stroke-width="0.1" fill="#111" >-35.5</text>
<text x="507.72" y="232.90" font-size="7.8" textLength="17.0" lengthAdjust="spacingAndGlyphs" fill="#111" stroke="#111" stroke-width="0.12">Ch 16</text>
<rect x="507.7" y="233.1" width="17.0" height="0.7" fill="#333"/>
<line x1="37.4" y1="288.1" x2="38.8" y2="288.1" stroke="#d88070" stroke-width="0.7"/><line x1="39.0" y1="328.6" x2="39.0" y2="330.0" stroke="#d88070" stroke-width="0.7"/><line x1="37.4" y1="293.9" x2="38.8" y2="293.9" stroke="#d88070" stroke-width="0.7"/><line x1="44.7" y1="328.6" x2="44.7" y2="330.0" stroke="#d88070" stroke-width="0.7"/><line x1="37.4" y1="299.6" x2="38.8" y2="299.6" stroke="#d88070" stroke-width="0.7"/><line x1="50.4" y1="328.6" x2="50.4" y2="330.0" stroke="#d88070" stroke-width="0.7"/><line x1="37.4" y1="305.4" x2="38.8" y2="305.4" stroke="#d88070" stroke-width="0.7"/><line x1="56.1" y1="328.6" x2="56.1" y2="330.0" stroke="#d88070" stroke-width="0.7"/><line x1="37.4" y1="311.1" x2="38.8" y2="311.1" stroke="#d88070" stroke-width="0.7"/><line x1="61.9" y1="328.6" x2="61.9" y2="330.0" stroke="#d88070" stroke-width="0.7"/><line x1="37.4" y1="316.9" x2="38.8" y2="316.9" stroke="#d88070" stroke-width="0.7"/><line x1="67.6" y1="328.6" x2="67.6" y2="330.0" stroke="#d88070" stroke-width="0.7"/><line x1="37.4" y1="322.6" x2="38.8" y2="322.6" stroke="#d88070" stroke-width="0.7"/><line x1="73.3" y1="328.6" x2="73.3" y2="330.0" stroke="#d88070" stroke-width="0.7"/><line x1="37.4" y1="328.4" x2="38.8" y2="328.4" stroke="#d88070" stroke-width="0.7"/><line x1="79.0" y1="328.6" x2="79.0" y2="330.0" stroke="#d88070" stroke-width="0.7"/>
<svg x="39.00" y="288.10" width="40.00" height="40.30" viewBox="0 0 100 100" preserveAspectRatio="none"><g filter="url(#jet)"><rect x="-5" y="-5" width="110" height="110" fill="rgb(87,87,87)"/><ellipse cx="37.0" cy="9.0" rx="26.3" ry="13.2" fill="url(#gn)" opacity="0.20"/><ellipse cx="6.5" cy="34.0" rx="13.2" ry="18.4" fill="url(#gn)" opacity="0.20"/><ellipse cx="67.0" cy="48.0" rx="18.4" ry="18.4" fill="url(#gn)" opacity="0.36"/><ellipse cx="86.0" cy="69.0" rx="18.4" ry="18.4" fill="url(#gn)" opacity="0.20"/><ellipse cx="37.0" cy="85.0" rx="21.1" ry="21.1" fill="url(#gn)" opacity="0.20"/><ellipse cx="65.0" cy="32.0" rx="15.8" ry="15.8" fill="url(#gs)" opacity="0.08"/><ellipse cx="67.0" cy="69.0" rx="15.8" ry="15.8" fill="url(#gs)" opacity="0.17"/><ellipse cx="32.0" cy="64.0" rx="15.8" ry="15.8" fill="url(#gs)" opacity="0.08"/><ellipse cx="33.7" cy="33.0" rx="16.5" ry="17.2" fill="url(#gp)" opacity="1.00"/></g></svg>
<rect x="80.70" y="288.10" width="3.00" height="40.30" fill="url(#jetv)"/>
<text x="85.50" y="290.40" font-size="6.3" stroke="#111" stroke-width="0.1" fill="#111" >64</text>
<text x="85.50" y="303.83" font-size="6.3" stroke="#111" stroke-width="0.1" fill="#111" >32</text>
<text x="85.50" y="317.27" font-size="6.3" stroke="#111" stroke-width="0.1" fill="#111" >0</text>
<text x="85.50" y="330.70" font-size="6.3" stroke="#111" stroke-width="0.1" fill="#111" >-32</text>
<text x="53.00" y="286.00" font-size="7.8" textLength="17.0" lengthAdjust="spacingAndGlyphs" fill="#111" stroke="#111" stroke-width="0.12">Ch 18</text>
<rect x="53.0" y="286.2" width="17.0" height="0.7" fill="#333"/>
<line x1="102.4" y1="288.1" x2="103.8" y2="288.1" stroke="#d88070" stroke-width="0.7"/><line x1="104.0" y1="328.6" x2="104.0" y2="330.0" stroke="#d88070" stroke-width="0.7"/><line x1="102.4" y1="293.9" x2="103.8" y2="293.9" stroke="#d88070" stroke-width="0.7"/><line x1="109.7" y1="328.6" x2="109.7" y2="330.0" stroke="#d88070" stroke-width="0.7"/><line x1="102.4" y1="299.6" x2="103.8" y2="299.6" stroke="#d88070" stroke-width="0.7"/><line x1="115.4" y1="328.6" x2="115.4" y2="330.0" stroke="#d88070" stroke-width="0.7"/><line x1="102.4" y1="305.4" x2="103.8" y2="305.4" stroke="#d88070" stroke-width="0.7"/><line x1="121.1" y1="328.6" x2="121.1" y2="330.0" stroke="#d88070" stroke-width="0.7"/><line x1="102.4" y1="311.1" x2="103.8" y2="311.1" stroke="#d88070" stroke-width="0.7"/><line x1="126.8" y1="328.6" x2="126.8" y2="330.0" stroke="#d88070" stroke-width="0.7"/><line x1="102.4" y1="316.9" x2="103.8" y2="316.9" stroke="#d88070" stroke-width="0.7"/><line x1="132.5" y1="328.6" x2="132.5" y2="330.0" stroke="#d88070" stroke-width="0.7"/><line x1="102.4" y1="322.6" x2="103.8" y2="322.6" stroke="#d88070" stroke-width="0.7"/><line x1="138.2" y1="328.6" x2="138.2" y2="330.0" stroke="#d88070" stroke-width="0.7"/><line x1="102.4" y1="328.4" x2="103.8" y2="328.4" stroke="#d88070" stroke-width="0.7"/><line x1="144.0" y1="328.6" x2="144.0" y2="330.0" stroke="#d88070" stroke-width="0.7"/>
<svg x="103.96" y="288.10" width="40.00" height="40.30" viewBox="0 0 100 100" preserveAspectRatio="none"><g filter="url(#jet)"><rect x="-5" y="-5" width="110" height="110" fill="rgb(87,87,87)"/><ellipse cx="55.0" cy="34.0" rx="13.2" ry="18.4" fill="url(#gn)" opacity="0.36"/><ellipse cx="65.0" cy="18.0" rx="15.8" ry="26.3" fill="url(#gn)" opacity="0.20"/><ellipse cx="34.0" cy="64.0" rx="15.8" ry="21.1" fill="url(#gn)" opacity="0.20"/><ellipse cx="88.0" cy="94.0" rx="21.1" ry="21.1" fill="url(#gn)" opacity="0.36"/><ellipse cx="86.0" cy="16.0" rx="18.4" ry="18.4" fill="url(#gs)" opacity="0.17"/><ellipse cx="9.0" cy="71.0" rx="18.4" ry="18.4" fill="url(#gs)" opacity="0.08"/><ellipse cx="76.0" cy="71.0" rx="18.4" ry="18.4" fill="url(#gs)" opacity="0.08"/><ellipse cx="31.6" cy="33.7" rx="18.1" ry="18.0" fill="url(#gp)" opacity="1.00"/></g></svg>
<rect x="145.66" y="288.10" width="3.00" height="40.30" fill="url(#jetv)"/>
<text x="150.46" y="290.40" font-size="6.3" stroke="#111" stroke-width="0.1" fill="#111" >84</text>
<text x="150.46" y="303.83" font-size="6.3" stroke="#111" stroke-width="0.1" fill="#111" >42</text>
<text x="150.46" y="317.27" font-size="6.3" stroke="#111" stroke-width="0.1" fill="#111" >0</text>
<text x="150.46" y="330.70" font-size="6.3" stroke="#111" stroke-width="0.1" fill="#111" >-42</text>
<text x="117.96" y="286.00" font-size="7.8" textLength="17.0" lengthAdjust="spacingAndGlyphs" fill="#111" stroke="#111" stroke-width="0.12">Ch 20</text>
<rect x="118.0" y="286.2" width="17.0" height="0.7" fill="#333"/>
<line x1="167.3" y1="288.1" x2="168.7" y2="288.1" stroke="#d88070" stroke-width="0.7"/><line x1="168.9" y1="328.6" x2="168.9" y2="330.0" stroke="#d88070" stroke-width="0.7"/><line x1="167.3" y1="293.9" x2="168.7" y2="293.9" stroke="#d88070" stroke-width="0.7"/><line x1="174.6" y1="328.6" x2="174.6" y2="330.0" stroke="#d88070" stroke-width="0.7"/><line x1="167.3" y1="299.6" x2="168.7" y2="299.6" stroke="#d88070" stroke-width="0.7"/><line x1="180.3" y1="328.6" x2="180.3" y2="330.0" stroke="#d88070" stroke-width="0.7"/><line x1="167.3" y1="305.4" x2="168.7" y2="305.4" stroke="#d88070" stroke-width="0.7"/><line x1="186.1" y1="328.6" x2="186.1" y2="330.0" stroke="#d88070" stroke-width="0.7"/><line x1="167.3" y1="311.1" x2="168.7" y2="311.1" stroke="#d88070" stroke-width="0.7"/><line x1="191.8" y1="328.6" x2="191.8" y2="330.0" stroke="#d88070" stroke-width="0.7"/><line x1="167.3" y1="316.9" x2="168.7" y2="316.9" stroke="#d88070" stroke-width="0.7"/><line x1="197.5" y1="328.6" x2="197.5" y2="330.0" stroke="#d88070" stroke-width="0.7"/><line x1="167.3" y1="322.6" x2="168.7" y2="322.6" stroke="#d88070" stroke-width="0.7"/><line x1="203.2" y1="328.6" x2="203.2" y2="330.0" stroke="#d88070" stroke-width="0.7"/><line x1="167.3" y1="328.4" x2="168.7" y2="328.4" stroke="#d88070" stroke-width="0.7"/><line x1="208.9" y1="328.6" x2="208.9" y2="330.0" stroke="#d88070" stroke-width="0.7"/>
<svg x="168.92" y="288.10" width="40.00" height="40.30" viewBox="0 0 100 100" preserveAspectRatio="none"><g filter="url(#jet)"><rect x="-5" y="-5" width="110" height="110" fill="rgb(87,87,87)"/><ellipse cx="12.0" cy="14.0" rx="36.8" ry="15.8" fill="url(#gn)" opacity="0.36"/><ellipse cx="67.0" cy="34.0" rx="15.8" ry="15.8" fill="url(#gn)" opacity="0.36"/><ellipse cx="56.0" cy="60.0" rx="26.3" ry="26.3" fill="url(#gn)" opacity="0.36"/><ellipse cx="7.0" cy="87.0" rx="31.6" ry="26.3" fill="url(#gn)" opacity="0.60"/><ellipse cx="90.0" cy="92.0" rx="18.4" ry="18.4" fill="url(#gn)" opacity="0.36"/><ellipse cx="86.0" cy="32.0" rx="13.2" ry="18.4" fill="url(#gs)" opacity="0.17"/><ellipse cx="60.0" cy="82.0" rx="18.4" ry="13.2" fill="url(#gs)" opacity="0.17"/><ellipse cx="84.0" cy="64.0" rx="15.8" ry="15.8" fill="url(#gs)" opacity="0.17"/><ellipse cx="21.0" cy="64.0" rx="15.8" ry="15.8" fill="url(#gs)" opacity="0.08"/><ellipse cx="10.0" cy="35.0" rx="21.1" ry="10.5" fill="url(#gs)" opacity="0.08"/><ellipse cx="33.7" cy="34.6" rx="18.9" ry="16.2" fill="url(#gp)" opacity="1.00"/></g></svg>
<rect x="210.62" y="288.10" width="3.00" height="40.30" fill="url(#jetv)"/>
<text x="215.42" y="290.40" font-size="6.3" stroke="#111" stroke-width="0.1" fill="#111" >56</text>
<text x="215.42" y="303.83" font-size="6.3" stroke="#111" stroke-width="0.1" fill="#111" >28</text>
<text x="215.42" y="317.27" font-size="6.3" stroke="#111" stroke-width="0.1" fill="#111" >0</text>
<text x="215.42" y="330.70" font-size="6.3" stroke="#111" stroke-width="0.1" fill="#111" >-28</text>
<text x="182.92" y="286.00" font-size="7.8" textLength="17.0" lengthAdjust="spacingAndGlyphs" fill="#111" stroke="#111" stroke-width="0.12">Ch 22</text>
<rect x="182.9" y="286.2" width="17.0" height="0.7" fill="#333"/>
<line x1="232.3" y1="288.1" x2="233.7" y2="288.1" stroke="#d88070" stroke-width="0.7"/><line x1="233.9" y1="328.6" x2="233.9" y2="330.0" stroke="#d88070" stroke-width="0.7"/><line x1="232.3" y1="293.9" x2="233.7" y2="293.9" stroke="#d88070" stroke-width="0.7"/><line x1="239.6" y1="328.6" x2="239.6" y2="330.0" stroke="#d88070" stroke-width="0.7"/><line x1="232.3" y1="299.6" x2="233.7" y2="299.6" stroke="#d88070" stroke-width="0.7"/><line x1="245.3" y1="328.6" x2="245.3" y2="330.0" stroke="#d88070" stroke-width="0.7"/><line x1="232.3" y1="305.4" x2="233.7" y2="305.4" stroke="#d88070" stroke-width="0.7"/><line x1="251.0" y1="328.6" x2="251.0" y2="330.0" stroke="#d88070" stroke-width="0.7"/><line x1="232.3" y1="311.1" x2="233.7" y2="311.1" stroke="#d88070" stroke-width="0.7"/><line x1="256.7" y1="328.6" x2="256.7" y2="330.0" stroke="#d88070" stroke-width="0.7"/><line x1="232.3" y1="316.9" x2="233.7" y2="316.9" stroke="#d88070" stroke-width="0.7"/><line x1="262.5" y1="328.6" x2="262.5" y2="330.0" stroke="#d88070" stroke-width="0.7"/><line x1="232.3" y1="322.6" x2="233.7" y2="322.6" stroke="#d88070" stroke-width="0.7"/><line x1="268.2" y1="328.6" x2="268.2" y2="330.0" stroke="#d88070" stroke-width="0.7"/><line x1="232.3" y1="328.4" x2="233.7" y2="328.4" stroke="#d88070" stroke-width="0.7"/><line x1="273.9" y1="328.6" x2="273.9" y2="330.0" stroke="#d88070" stroke-width="0.7"/>
<svg x="233.88" y="288.10" width="40.00" height="40.30" viewBox="0 0 100 100" preserveAspectRatio="none"><g filter="url(#jet)"><rect x="-5" y="-5" width="110" height="110" fill="rgb(87,87,87)"/><ellipse cx="7.0" cy="9.0" rx="18.4" ry="18.4" fill="url(#gn)" opacity="0.20"/><ellipse cx="53.0" cy="41.0" rx="15.8" ry="15.8" fill="url(#gn)" opacity="0.20"/><ellipse cx="40.0" cy="55.0" rx="26.3" ry="10.5" fill="url(#gn)" opacity="0.20"/><ellipse cx="86.0" cy="62.0" rx="15.8" ry="15.8" fill="url(#gn)" opacity="0.20"/><ellipse cx="47.0" cy="94.0" rx="26.3" ry="13.2" fill="url(#gn)" opacity="0.36"/><ellipse cx="5.0" cy="95.0" rx="15.8" ry="15.8" fill="url(#gn)" opacity="0.36"/><ellipse cx="12.0" cy="67.0" rx="18.4" ry="15.8" fill="url(#gs)" opacity="0.17"/><ellipse cx="65.0" cy="67.0" rx="18.4" ry="13.2" fill="url(#gs)" opacity="0.17"/><ellipse cx="95.0" cy="48.0" rx="13.2" ry="21.1" fill="url(#gs)" opacity="0.17"/><ellipse cx="35.0" cy="84.0" rx="18.4" ry="18.4" fill="url(#gs)" opacity="0.08"/><ellipse cx="33.0" cy="34.0" rx="16.5" ry="17.2" fill="url(#gp)" opacity="1.00"/></g></svg>
<rect x="275.58" y="288.10" width="3.00" height="40.30" fill="url(#jetv)"/>
<text x="280.38" y="290.40" font-size="6.3" stroke="#111" stroke-width="0.1" fill="#111" >48</text>
<text x="280.38" y="303.83" font-size="6.3" stroke="#111" stroke-width="0.1" fill="#111" >24</text>
<text x="280.38" y="317.27" font-size="6.3" stroke="#111" stroke-width="0.1" fill="#111" >0</text>
<text x="280.38" y="330.70" font-size="6.3" stroke="#111" stroke-width="0.1" fill="#111" >-24</text>
<text x="247.88" y="286.00" font-size="7.8" textLength="17.0" lengthAdjust="spacingAndGlyphs" fill="#111" stroke="#111" stroke-width="0.12">Ch 24</text>
<rect x="247.9" y="286.2" width="17.0" height="0.7" fill="#333"/>
<line x1="297.2" y1="288.1" x2="298.6" y2="288.1" stroke="#d88070" stroke-width="0.7"/><line x1="298.8" y1="328.6" x2="298.8" y2="330.0" stroke="#d88070" stroke-width="0.7"/><line x1="297.2" y1="293.9" x2="298.6" y2="293.9" stroke="#d88070" stroke-width="0.7"/><line x1="304.6" y1="328.6" x2="304.6" y2="330.0" stroke="#d88070" stroke-width="0.7"/><line x1="297.2" y1="299.6" x2="298.6" y2="299.6" stroke="#d88070" stroke-width="0.7"/><line x1="310.3" y1="328.6" x2="310.3" y2="330.0" stroke="#d88070" stroke-width="0.7"/><line x1="297.2" y1="305.4" x2="298.6" y2="305.4" stroke="#d88070" stroke-width="0.7"/><line x1="316.0" y1="328.6" x2="316.0" y2="330.0" stroke="#d88070" stroke-width="0.7"/><line x1="297.2" y1="311.1" x2="298.6" y2="311.1" stroke="#d88070" stroke-width="0.7"/><line x1="321.7" y1="328.6" x2="321.7" y2="330.0" stroke="#d88070" stroke-width="0.7"/><line x1="297.2" y1="316.9" x2="298.6" y2="316.9" stroke="#d88070" stroke-width="0.7"/><line x1="327.4" y1="328.6" x2="327.4" y2="330.0" stroke="#d88070" stroke-width="0.7"/><line x1="297.2" y1="322.6" x2="298.6" y2="322.6" stroke="#d88070" stroke-width="0.7"/><line x1="333.1" y1="328.6" x2="333.1" y2="330.0" stroke="#d88070" stroke-width="0.7"/><line x1="297.2" y1="328.4" x2="298.6" y2="328.4" stroke="#d88070" stroke-width="0.7"/><line x1="338.8" y1="328.6" x2="338.8" y2="330.0" stroke="#d88070" stroke-width="0.7"/>
<svg x="298.84" y="288.10" width="40.00" height="40.30" viewBox="0 0 100 100" preserveAspectRatio="none"><g filter="url(#jet)"><rect x="-5" y="-5" width="110" height="110" fill="rgb(87,87,87)"/><ellipse cx="35.0" cy="6.5" rx="21.1" ry="13.2" fill="url(#gn)" opacity="0.20"/><ellipse cx="12.0" cy="55.0" rx="26.3" ry="15.8" fill="url(#gn)" opacity="0.36"/><ellipse cx="45.0" cy="60.0" rx="31.6" ry="15.8" fill="url(#gn)" opacity="0.20"/><ellipse cx="86.0" cy="16.0" rx="18.4" ry="18.4" fill="url(#gn)" opacity="0.20"/><ellipse cx="35.0" cy="80.0" rx="18.4" ry="18.4" fill="url(#gn)" opacity="0.20"/><ellipse cx="81.0" cy="67.0" rx="18.4" ry="15.8" fill="url(#gs)" opacity="0.17"/><ellipse cx="14.0" cy="83.0" rx="15.8" ry="15.8" fill="url(#gs)" opacity="0.17"/><ellipse cx="65.0" cy="30.0" rx="10.5" ry="26.3" fill="url(#gs)" opacity="0.08"/><ellipse cx="28.0" cy="34.0" rx="14.9" ry="14.9" fill="url(#gp)" opacity="0.90"/><ellipse cx="31.0" cy="33.7" rx="23.0" ry="18.8" fill="url(#gp)" opacity="1.00"/></g></svg>
<rect x="340.54" y="288.10" width="3.00" height="40.30" fill="url(#jetv)"/>
<text x="345.34" y="290.40" font-size="6.3" stroke="#111" stroke-width="0.1" fill="#111" >78</text>
<text x="345.34" y="303.83" font-size="6.3" stroke="#111" stroke-width="0.1" fill="#111" >39</text>
<text x="345.34" y="317.27" font-size="6.3" stroke="#111" stroke-width="0.1" fill="#111" >0</text>
<text x="345.34" y="330.70" font-size="6.3" stroke="#111" stroke-width="0.1" fill="#111" >-39</text>
<text x="312.84" y="286.00" font-size="7.8" textLength="17.0" lengthAdjust="spacingAndGlyphs" fill="#111" stroke="#111" stroke-width="0.12">Ch 26</text>
<rect x="312.8" y="286.2" width="17.0" height="0.7" fill="#333"/>
<line x1="362.2" y1="288.1" x2="363.6" y2="288.1" stroke="#d88070" stroke-width="0.7"/><line x1="363.8" y1="328.6" x2="363.8" y2="330.0" stroke="#d88070" stroke-width="0.7"/><line x1="362.2" y1="293.9" x2="363.6" y2="293.9" stroke="#d88070" stroke-width="0.7"/><line x1="369.5" y1="328.6" x2="369.5" y2="330.0" stroke="#d88070" stroke-width="0.7"/><line x1="362.2" y1="299.6" x2="363.6" y2="299.6" stroke="#d88070" stroke-width="0.7"/><line x1="375.2" y1="328.6" x2="375.2" y2="330.0" stroke="#d88070" stroke-width="0.7"/><line x1="362.2" y1="305.4" x2="363.6" y2="305.4" stroke="#d88070" stroke-width="0.7"/><line x1="380.9" y1="328.6" x2="380.9" y2="330.0" stroke="#d88070" stroke-width="0.7"/><line x1="362.2" y1="311.1" x2="363.6" y2="311.1" stroke="#d88070" stroke-width="0.7"/><line x1="386.7" y1="328.6" x2="386.7" y2="330.0" stroke="#d88070" stroke-width="0.7"/><line x1="362.2" y1="316.9" x2="363.6" y2="316.9" stroke="#d88070" stroke-width="0.7"/><line x1="392.4" y1="328.6" x2="392.4" y2="330.0" stroke="#d88070" stroke-width="0.7"/><line x1="362.2" y1="322.6" x2="363.6" y2="322.6" stroke="#d88070" stroke-width="0.7"/><line x1="398.1" y1="328.6" x2="398.1" y2="330.0" stroke="#d88070" stroke-width="0.7"/><line x1="362.2" y1="328.4" x2="363.6" y2="328.4" stroke="#d88070" stroke-width="0.7"/><line x1="403.8" y1="328.6" x2="403.8" y2="330.0" stroke="#d88070" stroke-width="0.7"/>
<svg x="363.80" y="288.10" width="40.00" height="40.30" viewBox="0 0 100 100" preserveAspectRatio="none"><g filter="url(#jet)"><rect x="-5" y="-5" width="110" height="110" fill="rgb(87,87,87)"/><ellipse cx="23.0" cy="57.0" rx="36.8" ry="13.2" fill="url(#gn)" opacity="0.36"/><ellipse cx="60.0" cy="32.0" rx="15.8" ry="15.8" fill="url(#gn)" opacity="0.20"/><ellipse cx="75.0" cy="10.0" rx="21.1" ry="21.1" fill="url(#gn)" opacity="0.20"/><ellipse cx="63.0" cy="53.0" rx="15.8" ry="15.8" fill="url(#gs)" opacity="0.08"/><ellipse cx="40.0" cy="92.0" rx="18.4" ry="18.4" fill="url(#gs)" opacity="0.08"/><ellipse cx="12.0" cy="88.0" rx="21.1" ry="21.1" fill="url(#gn)" opacity="0.20"/><ellipse cx="82.0" cy="80.0" rx="18.4" ry="18.4" fill="url(#gn)" opacity="0.20"/><ellipse cx="26.0" cy="33.0" rx="29.1" ry="18.0" fill="url(#gp)" opacity="1.00"/></g></svg>
<rect x="405.50" y="288.10" width="3.00" height="40.30" fill="url(#jetv)"/>
<text x="410.30" y="290.40" font-size="6.3" stroke="#111" stroke-width="0.1" fill="#111" >87</text>
<text x="410.30" y="303.83" font-size="6.3" stroke="#111" stroke-width="0.1" fill="#111" >43.5</text>
<text x="410.30" y="317.27" font-size="6.3" stroke="#111" stroke-width="0.1" fill="#111" >0</text>
<text x="410.30" y="330.70" font-size="6.3" stroke="#111" stroke-width="0.1" fill="#111" >-43.5</text>
<text x="377.80" y="286.00" font-size="7.8" textLength="17.0" lengthAdjust="spacingAndGlyphs" fill="#111" stroke="#111" stroke-width="0.12">Ch 28</text>
<rect x="377.8" y="286.2" width="17.0" height="0.7" fill="#333"/>
<line x1="427.2" y1="288.1" x2="428.6" y2="288.1" stroke="#d88070" stroke-width="0.7"/><line x1="428.8" y1="328.6" x2="428.8" y2="330.0" stroke="#d88070" stroke-width="0.7"/><line x1="427.2" y1="293.9" x2="428.6" y2="293.9" stroke="#d88070" stroke-width="0.7"/><line x1="434.5" y1="328.6" x2="434.5" y2="330.0" stroke="#d88070" stroke-width="0.7"/><line x1="427.2" y1="299.6" x2="428.6" y2="299.6" stroke="#d88070" stroke-width="0.7"/><line x1="440.2" y1="328.6" x2="440.2" y2="330.0" stroke="#d88070" stroke-width="0.7"/><line x1="427.2" y1="305.4" x2="428.6" y2="305.4" stroke="#d88070" stroke-width="0.7"/><line x1="445.9" y1="328.6" x2="445.9" y2="330.0" stroke="#d88070" stroke-width="0.7"/><line x1="427.2" y1="311.1" x2="428.6" y2="311.1" stroke="#d88070" stroke-width="0.7"/><line x1="451.6" y1="328.6" x2="451.6" y2="330.0" stroke="#d88070" stroke-width="0.7"/><line x1="427.2" y1="316.9" x2="428.6" y2="316.9" stroke="#d88070" stroke-width="0.7"/><line x1="457.3" y1="328.6" x2="457.3" y2="330.0" stroke="#d88070" stroke-width="0.7"/><line x1="427.2" y1="322.6" x2="428.6" y2="322.6" stroke="#d88070" stroke-width="0.7"/><line x1="463.0" y1="328.6" x2="463.0" y2="330.0" stroke="#d88070" stroke-width="0.7"/><line x1="427.2" y1="328.4" x2="428.6" y2="328.4" stroke="#d88070" stroke-width="0.7"/><line x1="468.8" y1="328.6" x2="468.8" y2="330.0" stroke="#d88070" stroke-width="0.7"/>
<svg x="428.76" y="288.10" width="40.00" height="40.30" viewBox="0 0 100 100" preserveAspectRatio="none"><g filter="url(#jet)"><rect x="-5" y="-5" width="110" height="110" fill="rgb(87,87,87)"/><ellipse cx="16.0" cy="55.0" rx="36.8" ry="21.1" fill="url(#gn)" opacity="0.70"/><ellipse cx="33.0" cy="83.0" rx="26.3" ry="21.1" fill="url(#gn)" opacity="0.70"/><ellipse cx="14.0" cy="97.0" rx="26.3" ry="18.4" fill="url(#gn)" opacity="0.70"/><ellipse cx="65.0" cy="48.0" rx="18.4" ry="18.4" fill="url(#gn)" opacity="0.45"/><ellipse cx="98.0" cy="50.0" rx="10.5" ry="21.1" fill="url(#gn)" opacity="0.36"/><ellipse cx="72.0" cy="92.0" rx="21.1" ry="13.2" fill="url(#gn)" opacity="0.20"/><ellipse cx="53.0" cy="67.0" rx="15.8" ry="18.4" fill="url(#gs)" opacity="0.28"/><ellipse cx="81.0" cy="53.0" rx="13.2" ry="18.4" fill="url(#gs)" opacity="0.17"/><ellipse cx="81.0" cy="13.0" rx="18.4" ry="13.2" fill="url(#gs)" opacity="0.17"/><ellipse cx="12.0" cy="71.0" rx="15.8" ry="15.8" fill="url(#gs)" opacity="0.08"/><ellipse cx="44.0" cy="9.0" rx="21.1" ry="13.2" fill="url(#gn)" opacity="0.20"/><ellipse cx="19.0" cy="25.0" rx="23.0" ry="27.0" fill="url(#gp)" opacity="1.00"/><ellipse cx="30.0" cy="38.0" rx="26.3" ry="18.4" fill="url(#gs)" opacity="0.65"/></g></svg>
<rect x="470.46" y="288.10" width="3.00" height="40.30" fill="url(#jetv)"/>
<text x="475.26" y="290.40" font-size="6.3" stroke="#111" stroke-width="0.1" fill="#111" >50</text>
<text x="475.26" y="303.83" font-size="6.3" stroke="#111" stroke-width="0.1" fill="#111" >25</text>
<text x="475.26" y="317.27" font-size="6.3" stroke="#111" stroke-width="0.1" fill="#111" >0</text>
<text x="475.26" y="330.70" font-size="6.3" stroke="#111" stroke-width="0.1" fill="#111" >-25</text>
<text x="442.76" y="286.00" font-size="7.8" textLength="17.0" lengthAdjust="spacingAndGlyphs" fill="#111" stroke="#111" stroke-width="0.12">Ch 30</text>
<rect x="442.8" y="286.2" width="17.0" height="0.7" fill="#333"/>
<line x1="492.1" y1="288.1" x2="493.5" y2="288.1" stroke="#d88070" stroke-width="0.7"/><line x1="493.7" y1="328.6" x2="493.7" y2="330.0" stroke="#d88070" stroke-width="0.7"/><line x1="492.1" y1="293.9" x2="493.5" y2="293.9" stroke="#d88070" stroke-width="0.7"/><line x1="499.4" y1="328.6" x2="499.4" y2="330.0" stroke="#d88070" stroke-width="0.7"/><line x1="492.1" y1="299.6" x2="493.5" y2="299.6" stroke="#d88070" stroke-width="0.7"/><line x1="505.1" y1="328.6" x2="505.1" y2="330.0" stroke="#d88070" stroke-width="0.7"/><line x1="492.1" y1="305.4" x2="493.5" y2="305.4" stroke="#d88070" stroke-width="0.7"/><line x1="510.9" y1="328.6" x2="510.9" y2="330.0" stroke="#d88070" stroke-width="0.7"/><line x1="492.1" y1="311.1" x2="493.5" y2="311.1" stroke="#d88070" stroke-width="0.7"/><line x1="516.6" y1="328.6" x2="516.6" y2="330.0" stroke="#d88070" stroke-width="0.7"/><line x1="492.1" y1="316.9" x2="493.5" y2="316.9" stroke="#d88070" stroke-width="0.7"/><line x1="522.3" y1="328.6" x2="522.3" y2="330.0" stroke="#d88070" stroke-width="0.7"/><line x1="492.1" y1="322.6" x2="493.5" y2="322.6" stroke="#d88070" stroke-width="0.7"/><line x1="528.0" y1="328.6" x2="528.0" y2="330.0" stroke="#d88070" stroke-width="0.7"/><line x1="492.1" y1="328.4" x2="493.5" y2="328.4" stroke="#d88070" stroke-width="0.7"/><line x1="533.7" y1="328.6" x2="533.7" y2="330.0" stroke="#d88070" stroke-width="0.7"/>
<svg x="493.72" y="288.10" width="40.00" height="40.30" viewBox="0 0 100 100" preserveAspectRatio="none"><g filter="url(#jet)"><rect x="-5" y="-5" width="110" height="110" fill="rgb(20,20,20)"/><ellipse cx="46.5" cy="24.0" rx="17.8" ry="62.2" fill="url(#gs)" opacity="0.44"/><ellipse cx="7.0" cy="25.0" rx="13.3" ry="48.9" fill="url(#gs)" opacity="0.38"/><ellipse cx="1.0" cy="30.0" rx="11.1" ry="15.6" fill="url(#gs)" opacity="0.70"/><ellipse cx="19.0" cy="55.0" rx="22.2" ry="15.6" fill="url(#gs)" opacity="0.48"/><ellipse cx="55.0" cy="46.0" rx="93.3" ry="11.1" fill="url(#gs)" opacity="0.28"/><ellipse cx="97.0" cy="45.0" rx="11.1" ry="93.3" fill="url(#gs)" opacity="0.36"/><ellipse cx="95.0" cy="12.0" rx="13.3" ry="15.6" fill="url(#gs)" opacity="0.45"/><ellipse cx="82.0" cy="64.0" rx="33.3" ry="24.4" fill="url(#gs)" opacity="0.42"/><ellipse cx="82.0" cy="64.0" rx="17.8" ry="11.1" fill="url(#gn)" opacity="0.90"/><ellipse cx="15.0" cy="85.0" rx="26.7" ry="26.7" fill="url(#gn)" opacity="0.80"/><ellipse cx="27.0" cy="27.0" rx="22.2" ry="26.7" fill="url(#gn)" opacity="0.70"/><ellipse cx="72.0" cy="22.0" rx="22.2" ry="26.7" fill="url(#gn)" opacity="0.70"/><ellipse cx="65.0" cy="96.0" rx="71.1" ry="11.1" fill="url(#gs)" opacity="0.30"/><ellipse cx="86.0" cy="87.0" rx="15.6" ry="15.6" fill="url(#gs)" opacity="0.42"/><ellipse cx="30.0" cy="4.0" rx="28.9" ry="11.1" fill="url(#gs)" opacity="0.22"/><ellipse cx="59.0" cy="67.0" rx="35.6" ry="17.8" fill="url(#gs)" opacity="0.70" transform="rotate(-50 59.0 67.0)"/><ellipse cx="50.0" cy="82.0" rx="16.2" ry="17.6" fill="url(#gp)" opacity="1.00"/></g></svg>
<rect x="535.42" y="288.10" width="3.00" height="40.30" fill="url(#jetv)"/>
<text x="540.22" y="290.40" font-size="6.3" stroke="#111" stroke-width="0.1" fill="#111" >17</text>
<text x="540.22" y="303.83" font-size="6.3" stroke="#111" stroke-width="0.1" fill="#111" >8.5</text>
<text x="540.22" y="317.27" font-size="6.3" stroke="#111" stroke-width="0.1" fill="#111" >0</text>
<text x="540.22" y="330.70" font-size="6.3" stroke="#111" stroke-width="0.1" fill="#111" >-8.5</text>
<text x="507.72" y="286.00" font-size="7.8" textLength="17.0" lengthAdjust="spacingAndGlyphs" fill="#111" stroke="#111" stroke-width="0.12">Ch 32</text>
<rect x="507.7" y="286.2" width="17.0" height="0.7" fill="#333"/>
<line x1="37.4" y1="367.6" x2="38.8" y2="367.6" stroke="#d88070" stroke-width="0.7"/><line x1="39.0" y1="408.1" x2="39.0" y2="409.5" stroke="#d88070" stroke-width="0.7"/><line x1="37.4" y1="373.4" x2="38.8" y2="373.4" stroke="#d88070" stroke-width="0.7"/><line x1="44.7" y1="408.1" x2="44.7" y2="409.5" stroke="#d88070" stroke-width="0.7"/><line x1="37.4" y1="379.1" x2="38.8" y2="379.1" stroke="#d88070" stroke-width="0.7"/><line x1="50.4" y1="408.1" x2="50.4" y2="409.5" stroke="#d88070" stroke-width="0.7"/><line x1="37.4" y1="384.9" x2="38.8" y2="384.9" stroke="#d88070" stroke-width="0.7"/><line x1="56.1" y1="408.1" x2="56.1" y2="409.5" stroke="#d88070" stroke-width="0.7"/><line x1="37.4" y1="390.6" x2="38.8" y2="390.6" stroke="#d88070" stroke-width="0.7"/><line x1="61.9" y1="408.1" x2="61.9" y2="409.5" stroke="#d88070" stroke-width="0.7"/><line x1="37.4" y1="396.4" x2="38.8" y2="396.4" stroke="#d88070" stroke-width="0.7"/><line x1="67.6" y1="408.1" x2="67.6" y2="409.5" stroke="#d88070" stroke-width="0.7"/><line x1="37.4" y1="402.1" x2="38.8" y2="402.1" stroke="#d88070" stroke-width="0.7"/><line x1="73.3" y1="408.1" x2="73.3" y2="409.5" stroke="#d88070" stroke-width="0.7"/><line x1="37.4" y1="407.9" x2="38.8" y2="407.9" stroke="#d88070" stroke-width="0.7"/><line x1="79.0" y1="408.1" x2="79.0" y2="409.5" stroke="#d88070" stroke-width="0.7"/>
<svg x="39.00" y="367.60" width="40.00" height="40.30" viewBox="0 0 100 100" preserveAspectRatio="none"><g filter="url(#jet)"><rect x="-5" y="-5" width="110" height="110" fill="rgb(87,87,87)"/><ellipse cx="73.0" cy="43.7" rx="23.7" ry="23.7" fill="url(#gn)" opacity="0.60"/><ellipse cx="5.0" cy="44.0" rx="13.2" ry="21.1" fill="url(#gn)" opacity="0.36"/><ellipse cx="30.0" cy="72.0" rx="23.7" ry="15.8" fill="url(#gn)" opacity="0.36"/><ellipse cx="40.0" cy="15.0" rx="21.1" ry="21.1" fill="url(#gn)" opacity="0.20"/><ellipse cx="15.0" cy="18.0" rx="15.8" ry="15.8" fill="url(#gn)" opacity="0.20"/><ellipse cx="30.0" cy="95.0" rx="21.1" ry="13.2" fill="url(#gn)" opacity="0.20"/><ellipse cx="85.0" cy="86.0" rx="21.1" ry="21.1" fill="url(#gn)" opacity="0.20"/><ellipse cx="93.0" cy="22.0" rx="13.2" ry="13.2" fill="url(#gn)" opacity="0.20"/><ellipse cx="4.0" cy="5.0" rx="13.2" ry="13.2" fill="url(#gn)" opacity="0.36"/><ellipse cx="58.0" cy="72.0" rx="15.8" ry="18.4" fill="url(#gs)" opacity="0.28"/><ellipse cx="55.0" cy="43.0" rx="7.9" ry="21.1" fill="url(#gs)" opacity="0.17"/><ellipse cx="69.0" cy="10.0" rx="18.4" ry="15.8" fill="url(#gs)" opacity="0.28"/><ellipse cx="18.0" cy="22.0" rx="13.2" ry="13.2" fill="url(#gs)" opacity="0.08"/><ellipse cx="28.6" cy="41.4" rx="14.2" ry="20.3" fill="url(#gp)" opacity="1.00"/></g></svg>
<rect x="80.70" y="367.60" width="3.00" height="40.30" fill="url(#jetv)"/>
<text x="85.50" y="369.90" font-size="6.3" stroke="#111" stroke-width="0.1" fill="#111" >43</text>
<text x="85.50" y="383.33" font-size="6.3" stroke="#111" stroke-width="0.1" fill="#111" >21.5</text>
<text x="85.50" y="396.77" font-size="6.3" stroke="#111" stroke-width="0.1" fill="#111" >0</text>
<text x="85.50" y="410.20" font-size="6.3" stroke="#111" stroke-width="0.1" fill="#111" >-21.5</text>
<text x="55.10" y="365.50" font-size="7.8" textLength="12.8" lengthAdjust="spacingAndGlyphs" fill="#111" stroke="#111" stroke-width="0.12">Ch 2</text>
<rect x="55.1" y="365.7" width="12.8" height="0.7" fill="#333"/>
<line x1="102.4" y1="367.6" x2="103.8" y2="367.6" stroke="#d88070" stroke-width="0.7"/><line x1="104.0" y1="408.1" x2="104.0" y2="409.5" stroke="#d88070" stroke-width="0.7"/><line x1="102.4" y1="373.4" x2="103.8" y2="373.4" stroke="#d88070" stroke-width="0.7"/><line x1="109.7" y1="408.1" x2="109.7" y2="409.5" stroke="#d88070" stroke-width="0.7"/><line x1="102.4" y1="379.1" x2="103.8" y2="379.1" stroke="#d88070" stroke-width="0.7"/><line x1="115.4" y1="408.1" x2="115.4" y2="409.5" stroke="#d88070" stroke-width="0.7"/><line x1="102.4" y1="384.9" x2="103.8" y2="384.9" stroke="#d88070" stroke-width="0.7"/><line x1="121.1" y1="408.1" x2="121.1" y2="409.5" stroke="#d88070" stroke-width="0.7"/><line x1="102.4" y1="390.6" x2="103.8" y2="390.6" stroke="#d88070" stroke-width="0.7"/><line x1="126.8" y1="408.1" x2="126.8" y2="409.5" stroke="#d88070" stroke-width="0.7"/><line x1="102.4" y1="396.4" x2="103.8" y2="396.4" stroke="#d88070" stroke-width="0.7"/><line x1="132.5" y1="408.1" x2="132.5" y2="409.5" stroke="#d88070" stroke-width="0.7"/><line x1="102.4" y1="402.1" x2="103.8" y2="402.1" stroke="#d88070" stroke-width="0.7"/><line x1="138.2" y1="408.1" x2="138.2" y2="409.5" stroke="#d88070" stroke-width="0.7"/><line x1="102.4" y1="407.9" x2="103.8" y2="407.9" stroke="#d88070" stroke-width="0.7"/><line x1="144.0" y1="408.1" x2="144.0" y2="409.5" stroke="#d88070" stroke-width="0.7"/>
<svg x="103.96" y="367.60" width="40.00" height="40.30" viewBox="0 0 100 100" preserveAspectRatio="none"><g filter="url(#jet)"><rect x="-5" y="-5" width="110" height="110" fill="rgb(87,87,87)"/><ellipse cx="48.0" cy="43.0" rx="10.5" ry="15.8" fill="url(#gn)" opacity="0.36"/><ellipse cx="30.0" cy="10.0" rx="31.6" ry="13.2" fill="url(#gn)" opacity="0.20"/><ellipse cx="69.0" cy="33.0" rx="10.5" ry="26.3" fill="url(#gn)" opacity="0.20"/><ellipse cx="30.0" cy="84.0" rx="21.1" ry="15.8" fill="url(#gn)" opacity="0.20"/><ellipse cx="88.0" cy="31.0" rx="15.8" ry="15.8" fill="url(#gs)" opacity="0.08"/><ellipse cx="45.0" cy="97.0" rx="31.6" ry="10.5" fill="url(#gn)" opacity="0.20"/><ellipse cx="28.0" cy="39.0" rx="14.9" ry="20.3" fill="url(#gp)" opacity="1.00"/></g></svg>
<rect x="145.66" y="367.60" width="3.00" height="40.30" fill="url(#jetv)"/>
<text x="150.46" y="369.90" font-size="6.3" stroke="#111" stroke-width="0.1" fill="#111" >97</text>
<text x="150.46" y="383.33" font-size="6.3" stroke="#111" stroke-width="0.1" fill="#111" >48.5</text>
<text x="150.46" y="396.77" font-size="6.3" stroke="#111" stroke-width="0.1" fill="#111" >0</text>
<text x="150.46" y="410.20" font-size="6.3" stroke="#111" stroke-width="0.1" fill="#111" >-48.5</text>
<text x="120.06" y="365.50" font-size="7.8" textLength="12.8" lengthAdjust="spacingAndGlyphs" fill="#111" stroke="#111" stroke-width="0.12">Ch 4</text>
<rect x="120.1" y="365.7" width="12.8" height="0.7" fill="#333"/>
<line x1="167.3" y1="367.6" x2="168.7" y2="367.6" stroke="#d88070" stroke-width="0.7"/><line x1="168.9" y1="408.1" x2="168.9" y2="409.5" stroke="#d88070" stroke-width="0.7"/><line x1="167.3" y1="373.4" x2="168.7" y2="373.4" stroke="#d88070" stroke-width="0.7"/><line x1="174.6" y1="408.1" x2="174.6" y2="409.5" stroke="#d88070" stroke-width="0.7"/><line x1="167.3" y1="379.1" x2="168.7" y2="379.1" stroke="#d88070" stroke-width="0.7"/><line x1="180.3" y1="408.1" x2="180.3" y2="409.5" stroke="#d88070" stroke-width="0.7"/><line x1="167.3" y1="384.9" x2="168.7" y2="384.9" stroke="#d88070" stroke-width="0.7"/><line x1="186.1" y1="408.1" x2="186.1" y2="409.5" stroke="#d88070" stroke-width="0.7"/><line x1="167.3" y1="390.6" x2="168.7" y2="390.6" stroke="#d88070" stroke-width="0.7"/><line x1="191.8" y1="408.1" x2="191.8" y2="409.5" stroke="#d88070" stroke-width="0.7"/><line x1="167.3" y1="396.4" x2="168.7" y2="396.4" stroke="#d88070" stroke-width="0.7"/><line x1="197.5" y1="408.1" x2="197.5" y2="409.5" stroke="#d88070" stroke-width="0.7"/><line x1="167.3" y1="402.1" x2="168.7" y2="402.1" stroke="#d88070" stroke-width="0.7"/><line x1="203.2" y1="408.1" x2="203.2" y2="409.5" stroke="#d88070" stroke-width="0.7"/><line x1="167.3" y1="407.9" x2="168.7" y2="407.9" stroke="#d88070" stroke-width="0.7"/><line x1="208.9" y1="408.1" x2="208.9" y2="409.5" stroke="#d88070" stroke-width="0.7"/>
<svg x="168.92" y="367.60" width="40.00" height="40.30" viewBox="0 0 100 100" preserveAspectRatio="none"><g filter="url(#jet)"><rect x="-5" y="-5" width="110" height="110" fill="rgb(87,87,87)"/><ellipse cx="28.0" cy="6.0" rx="15.8" ry="13.2" fill="url(#gn)" opacity="0.36"/><ellipse cx="14.0" cy="62.0" rx="15.8" ry="15.8" fill="url(#gn)" opacity="0.20"/><ellipse cx="86.0" cy="13.0" rx="18.4" ry="18.4" fill="url(#gn)" opacity="0.20"/><ellipse cx="40.0" cy="85.0" rx="36.8" ry="15.8" fill="url(#gn)" opacity="0.20"/><ellipse cx="55.0" cy="35.0" rx="13.2" ry="13.2" fill="url(#gn)" opacity="0.20"/><ellipse cx="70.0" cy="66.0" rx="10.5" ry="31.6" fill="url(#gs)" opacity="0.08"/><ellipse cx="17.0" cy="56.0" rx="13.2" ry="13.2" fill="url(#gs)" opacity="0.17"/><ellipse cx="28.0" cy="36.0" rx="18.9" ry="24.9" fill="url(#gp)" opacity="1.00"/></g></svg>
<rect x="210.62" y="367.60" width="3.00" height="40.30" fill="url(#jetv)"/>
<text x="215.42" y="369.90" font-size="6.3" stroke="#111" stroke-width="0.1" fill="#111" >139</text>
<text x="215.42" y="383.33" font-size="6.3" stroke="#111" stroke-width="0.1" fill="#111" >69.5</text>
<text x="215.42" y="396.77" font-size="6.3" stroke="#111" stroke-width="0.1" fill="#111" >0</text>
<text x="215.42" y="410.20" font-size="6.3" stroke="#111" stroke-width="0.1" fill="#111" >-69.5</text>
<text x="185.02" y="365.50" font-size="7.8" textLength="12.8" lengthAdjust="spacingAndGlyphs" fill="#111" stroke="#111" stroke-width="0.12">Ch 6</text>
<rect x="185.0" y="365.7" width="12.8" height="0.7" fill="#333"/>
<line x1="232.3" y1="367.6" x2="233.7" y2="367.6" stroke="#d88070" stroke-width="0.7"/><line x1="233.9" y1="408.1" x2="233.9" y2="409.5" stroke="#d88070" stroke-width="0.7"/><line x1="232.3" y1="373.4" x2="233.7" y2="373.4" stroke="#d88070" stroke-width="0.7"/><line x1="239.6" y1="408.1" x2="239.6" y2="409.5" stroke="#d88070" stroke-width="0.7"/><line x1="232.3" y1="379.1" x2="233.7" y2="379.1" stroke="#d88070" stroke-width="0.7"/><line x1="245.3" y1="408.1" x2="245.3" y2="409.5" stroke="#d88070" stroke-width="0.7"/><line x1="232.3" y1="384.9" x2="233.7" y2="384.9" stroke="#d88070" stroke-width="0.7"/><line x1="251.0" y1="408.1" x2="251.0" y2="409.5" stroke="#d88070" stroke-width="0.7"/><line x1="232.3" y1="390.6" x2="233.7" y2="390.6" stroke="#d88070" stroke-width="0.7"/><line x1="256.7" y1="408.1" x2="256.7" y2="409.5" stroke="#d88070" stroke-width="0.7"/><line x1="232.3" y1="396.4" x2="233.7" y2="396.4" stroke="#d88070" stroke-width="0.7"/><line x1="262.5" y1="408.1" x2="262.5" y2="409.5" stroke="#d88070" stroke-width="0.7"/><line x1="232.3" y1="402.1" x2="233.7" y2="402.1" stroke="#d88070" stroke-width="0.7"/><line x1="268.2" y1="408.1" x2="268.2" y2="409.5" stroke="#d88070" stroke-width="0.7"/><line x1="232.3" y1="407.9" x2="233.7" y2="407.9" stroke="#d88070" stroke-width="0.7"/><line x1="273.9" y1="408.1" x2="273.9" y2="409.5" stroke="#d88070" stroke-width="0.7"/>
<svg x="233.88" y="367.60" width="40.00" height="40.30" viewBox="0 0 100 100" preserveAspectRatio="none"><g filter="url(#jet)"><rect x="-5" y="-5" width="110" height="110" fill="rgb(87,87,87)"/><ellipse cx="28.0" cy="6.0" rx="18.4" ry="13.2" fill="url(#gn)" opacity="0.36"/><ellipse cx="77.0" cy="43.0" rx="18.4" ry="18.4" fill="url(#gn)" opacity="0.20"/><ellipse cx="56.0" cy="78.0" rx="18.4" ry="18.4" fill="url(#gn)" opacity="0.20"/><ellipse cx="14.0" cy="87.0" rx="18.4" ry="18.4" fill="url(#gn)" opacity="0.20"/><ellipse cx="5.0" cy="55.0" rx="13.2" ry="13.2" fill="url(#gn)" opacity="0.20"/><ellipse cx="58.0" cy="48.0" rx="13.2" ry="13.2" fill="url(#gs)" opacity="0.08"/><ellipse cx="29.0" cy="53.0" rx="13.2" ry="13.2" fill="url(#gs)" opacity="0.17"/><ellipse cx="27.4" cy="33.0" rx="19.6" ry="20.9" fill="url(#gp)" opacity="1.00"/></g></svg>
<rect x="275.58" y="367.60" width="3.00" height="40.30" fill="url(#jetv)"/>
<text x="280.38" y="369.90" font-size="6.3" stroke="#111" stroke-width="0.1" fill="#111" >119</text>
<text x="280.38" y="383.33" font-size="6.3" stroke="#111" stroke-width="0.1" fill="#111" >59.5</text>
<text x="280.38" y="396.77" font-size="6.3" stroke="#111" stroke-width="0.1" fill="#111" >0</text>
<text x="280.38" y="410.20" font-size="6.3" stroke="#111" stroke-width="0.1" fill="#111" >-59.5</text>
<text x="249.98" y="365.50" font-size="7.8" textLength="12.8" lengthAdjust="spacingAndGlyphs" fill="#111" stroke="#111" stroke-width="0.12">Ch 8</text>
<rect x="250.0" y="365.7" width="12.8" height="0.7" fill="#333"/>
<line x1="297.2" y1="367.6" x2="298.6" y2="367.6" stroke="#d88070" stroke-width="0.7"/><line x1="298.8" y1="408.1" x2="298.8" y2="409.5" stroke="#d88070" stroke-width="0.7"/><line x1="297.2" y1="373.4" x2="298.6" y2="373.4" stroke="#d88070" stroke-width="0.7"/><line x1="304.6" y1="408.1" x2="304.6" y2="409.5" stroke="#d88070" stroke-width="0.7"/><line x1="297.2" y1="379.1" x2="298.6" y2="379.1" stroke="#d88070" stroke-width="0.7"/><line x1="310.3" y1="408.1" x2="310.3" y2="409.5" stroke="#d88070" stroke-width="0.7"/><line x1="297.2" y1="384.9" x2="298.6" y2="384.9" stroke="#d88070" stroke-width="0.7"/><line x1="316.0" y1="408.1" x2="316.0" y2="409.5" stroke="#d88070" stroke-width="0.7"/><line x1="297.2" y1="390.6" x2="298.6" y2="390.6" stroke="#d88070" stroke-width="0.7"/><line x1="321.7" y1="408.1" x2="321.7" y2="409.5" stroke="#d88070" stroke-width="0.7"/><line x1="297.2" y1="396.4" x2="298.6" y2="396.4" stroke="#d88070" stroke-width="0.7"/><line x1="327.4" y1="408.1" x2="327.4" y2="409.5" stroke="#d88070" stroke-width="0.7"/><line x1="297.2" y1="402.1" x2="298.6" y2="402.1" stroke="#d88070" stroke-width="0.7"/><line x1="333.1" y1="408.1" x2="333.1" y2="409.5" stroke="#d88070" stroke-width="0.7"/><line x1="297.2" y1="407.9" x2="298.6" y2="407.9" stroke="#d88070" stroke-width="0.7"/><line x1="338.8" y1="408.1" x2="338.8" y2="409.5" stroke="#d88070" stroke-width="0.7"/>
<svg x="298.84" y="367.60" width="40.00" height="40.30" viewBox="0 0 100 100" preserveAspectRatio="none"><g filter="url(#jet)"><rect x="-5" y="-5" width="110" height="110" fill="rgb(87,87,87)"/><ellipse cx="28.0" cy="6.0" rx="21.1" ry="13.2" fill="url(#gn)" opacity="0.20"/><ellipse cx="47.0" cy="34.0" rx="13.2" ry="18.4" fill="url(#gn)" opacity="0.20"/><ellipse cx="56.0" cy="73.0" rx="21.1" ry="15.8" fill="url(#gn)" opacity="0.36"/><ellipse cx="91.0" cy="43.0" rx="15.8" ry="15.8" fill="url(#gn)" opacity="0.20"/><ellipse cx="8.0" cy="94.0" rx="18.4" ry="18.4" fill="url(#gn)" opacity="0.20"/><ellipse cx="42.0" cy="10.0" rx="10.5" ry="13.2" fill="url(#gs)" opacity="0.17"/><ellipse cx="27.4" cy="31.0" rx="18.1" ry="17.8" fill="url(#gp)" opacity="1.00"/></g></svg>
<rect x="340.54" y="367.60" width="3.00" height="40.30" fill="url(#jetv)"/>
<text x="345.34" y="369.90" font-size="6.3" stroke="#111" stroke-width="0.1" fill="#111" >114</text>
<text x="345.34" y="383.33" font-size="6.3" stroke="#111" stroke-width="0.1" fill="#111" >57</text>
<text x="345.34" y="396.77" font-size="6.3" stroke="#111" stroke-width="0.1" fill="#111" >0</text>
<text x="345.34" y="410.20" font-size="6.3" stroke="#111" stroke-width="0.1" fill="#111" >-57</text>
<text x="312.84" y="365.50" font-size="7.8" textLength="17.0" lengthAdjust="spacingAndGlyphs" fill="#111" stroke="#111" stroke-width="0.12">Ch 10</text>
<rect x="312.8" y="365.7" width="17.0" height="0.7" fill="#333"/>
<line x1="362.2" y1="367.6" x2="363.6" y2="367.6" stroke="#d88070" stroke-width="0.7"/><line x1="363.8" y1="408.1" x2="363.8" y2="409.5" stroke="#d88070" stroke-width="0.7"/><line x1="362.2" y1="373.4" x2="363.6" y2="373.4" stroke="#d88070" stroke-width="0.7"/><line x1="369.5" y1="408.1" x2="369.5" y2="409.5" stroke="#d88070" stroke-width="0.7"/><line x1="362.2" y1="379.1" x2="363.6" y2="379.1" stroke="#d88070" stroke-width="0.7"/><line x1="375.2" y1="408.1" x2="375.2" y2="409.5" stroke="#d88070" stroke-width="0.7"/><line x1="362.2" y1="384.9" x2="363.6" y2="384.9" stroke="#d88070" stroke-width="0.7"/><line x1="380.9" y1="408.1" x2="380.9" y2="409.5" stroke="#d88070" stroke-width="0.7"/><line x1="362.2" y1="390.6" x2="363.6" y2="390.6" stroke="#d88070" stroke-width="0.7"/><line x1="386.7" y1="408.1" x2="386.7" y2="409.5" stroke="#d88070" stroke-width="0.7"/><line x1="362.2" y1="396.4" x2="363.6" y2="396.4" stroke="#d88070" stroke-width="0.7"/><line x1="392.4" y1="408.1" x2="392.4" y2="409.5" stroke="#d88070" stroke-width="0.7"/><line x1="362.2" y1="402.1" x2="363.6" y2="402.1" stroke="#d88070" stroke-width="0.7"/><line x1="398.1" y1="408.1" x2="398.1" y2="409.5" stroke="#d88070" stroke-width="0.7"/><line x1="362.2" y1="407.9" x2="363.6" y2="407.9" stroke="#d88070" stroke-width="0.7"/><line x1="403.8" y1="408.1" x2="403.8" y2="409.5" stroke="#d88070" stroke-width="0.7"/>
<svg x="363.80" y="367.60" width="40.00" height="40.30" viewBox="0 0 100 100" preserveAspectRatio="none"><g filter="url(#jet)"><rect x="-5" y="-5" width="110" height="110" fill="rgb(87,87,87)"/><ellipse cx="28.0" cy="6.0" rx="21.1" ry="13.2" fill="url(#gn)" opacity="0.20"/><ellipse cx="9.0" cy="50.0" rx="15.8" ry="15.8" fill="url(#gn)" opacity="0.20"/><ellipse cx="53.0" cy="57.0" rx="18.4" ry="18.4" fill="url(#gn)" opacity="0.20"/><ellipse cx="56.0" cy="87.0" rx="18.4" ry="15.8" fill="url(#gn)" opacity="0.36"/><ellipse cx="85.0" cy="10.0" rx="18.4" ry="13.2" fill="url(#gn)" opacity="0.20"/><ellipse cx="72.0" cy="59.0" rx="15.8" ry="15.8" fill="url(#gs)" opacity="0.08"/><ellipse cx="24.0" cy="30.6" rx="23.5" ry="16.2" fill="url(#gp)" opacity="1.00"/></g></svg>
<rect x="405.50" y="367.60" width="3.00" height="40.30" fill="url(#jetv)"/>
<text x="410.30" y="369.90" font-size="6.3" stroke="#111" stroke-width="0.1" fill="#111" >118</text>
<text x="410.30" y="383.33" font-size="6.3" stroke="#111" stroke-width="0.1" fill="#111" >59</text>
<text x="410.30" y="396.77" font-size="6.3" stroke="#111" stroke-width="0.1" fill="#111" >0</text>
<text x="410.30" y="410.20" font-size="6.3" stroke="#111" stroke-width="0.1" fill="#111" >-59</text>
<text x="377.80" y="365.50" font-size="7.8" textLength="17.0" lengthAdjust="spacingAndGlyphs" fill="#111" stroke="#111" stroke-width="0.12">Ch 12</text>
<rect x="377.8" y="365.7" width="17.0" height="0.7" fill="#333"/>
<line x1="427.2" y1="367.6" x2="428.6" y2="367.6" stroke="#d88070" stroke-width="0.7"/><line x1="428.8" y1="408.1" x2="428.8" y2="409.5" stroke="#d88070" stroke-width="0.7"/><line x1="427.2" y1="373.4" x2="428.6" y2="373.4" stroke="#d88070" stroke-width="0.7"/><line x1="434.5" y1="408.1" x2="434.5" y2="409.5" stroke="#d88070" stroke-width="0.7"/><line x1="427.2" y1="379.1" x2="428.6" y2="379.1" stroke="#d88070" stroke-width="0.7"/><line x1="440.2" y1="408.1" x2="440.2" y2="409.5" stroke="#d88070" stroke-width="0.7"/><line x1="427.2" y1="384.9" x2="428.6" y2="384.9" stroke="#d88070" stroke-width="0.7"/><line x1="445.9" y1="408.1" x2="445.9" y2="409.5" stroke="#d88070" stroke-width="0.7"/><line x1="427.2" y1="390.6" x2="428.6" y2="390.6" stroke="#d88070" stroke-width="0.7"/><line x1="451.6" y1="408.1" x2="451.6" y2="409.5" stroke="#d88070" stroke-width="0.7"/><line x1="427.2" y1="396.4" x2="428.6" y2="396.4" stroke="#d88070" stroke-width="0.7"/><line x1="457.3" y1="408.1" x2="457.3" y2="409.5" stroke="#d88070" stroke-width="0.7"/><line x1="427.2" y1="402.1" x2="428.6" y2="402.1" stroke="#d88070" stroke-width="0.7"/><line x1="463.0" y1="408.1" x2="463.0" y2="409.5" stroke="#d88070" stroke-width="0.7"/><line x1="427.2" y1="407.9" x2="428.6" y2="407.9" stroke="#d88070" stroke-width="0.7"/><line x1="468.8" y1="408.1" x2="468.8" y2="409.5" stroke="#d88070" stroke-width="0.7"/>
<svg x="428.76" y="367.60" width="40.00" height="40.30" viewBox="0 0 100 100" preserveAspectRatio="none"><g filter="url(#jet)"><rect x="-5" y="-5" width="110" height="110" fill="rgb(87,87,87)"/><ellipse cx="16.0" cy="52.0" rx="26.3" ry="18.4" fill="url(#gn)" opacity="0.36"/><ellipse cx="41.0" cy="89.0" rx="18.4" ry="18.4" fill="url(#gn)" opacity="0.36"/><ellipse cx="23.0" cy="8.0" rx="21.1" ry="13.2" fill="url(#gn)" opacity="0.20"/><ellipse cx="60.0" cy="30.0" rx="15.8" ry="15.8" fill="url(#gn)" opacity="0.20"/><ellipse cx="88.0" cy="52.0" rx="10.5" ry="26.3" fill="url(#gs)" opacity="0.17"/><ellipse cx="41.0" cy="64.0" rx="15.8" ry="15.8" fill="url(#gs)" opacity="0.08"/><ellipse cx="22.3" cy="30.6" rx="24.3" ry="15.5" fill="url(#gp)" opacity="1.00"/></g></svg>
<rect x="470.46" y="367.60" width="3.00" height="40.30" fill="url(#jetv)"/>
<text x="475.26" y="369.90" font-size="6.3" stroke="#111" stroke-width="0.1" fill="#111" >94</text>
<text x="475.26" y="383.33" font-size="6.3" stroke="#111" stroke-width="0.1" fill="#111" >47</text>
<text x="475.26" y="396.77" font-size="6.3" stroke="#111" stroke-width="0.1" fill="#111" >0</text>
<text x="475.26" y="410.20" font-size="6.3" stroke="#111" stroke-width="0.1" fill="#111" >-47</text>
<text x="442.76" y="365.50" font-size="7.8" textLength="17.0" lengthAdjust="spacingAndGlyphs" fill="#111" stroke="#111" stroke-width="0.12">Ch 14</text>
<rect x="442.8" y="365.7" width="17.0" height="0.7" fill="#333"/>
<line x1="492.1" y1="367.6" x2="493.5" y2="367.6" stroke="#d88070" stroke-width="0.7"/><line x1="493.7" y1="408.1" x2="493.7" y2="409.5" stroke="#d88070" stroke-width="0.7"/><line x1="492.1" y1="373.4" x2="493.5" y2="373.4" stroke="#d88070" stroke-width="0.7"/><line x1="499.4" y1="408.1" x2="499.4" y2="409.5" stroke="#d88070" stroke-width="0.7"/><line x1="492.1" y1="379.1" x2="493.5" y2="379.1" stroke="#d88070" stroke-width="0.7"/><line x1="505.1" y1="408.1" x2="505.1" y2="409.5" stroke="#d88070" stroke-width="0.7"/><line x1="492.1" y1="384.9" x2="493.5" y2="384.9" stroke="#d88070" stroke-width="0.7"/><line x1="510.9" y1="408.1" x2="510.9" y2="409.5" stroke="#d88070" stroke-width="0.7"/><line x1="492.1" y1="390.6" x2="493.5" y2="390.6" stroke="#d88070" stroke-width="0.7"/><line x1="516.6" y1="408.1" x2="516.6" y2="409.5" stroke="#d88070" stroke-width="0.7"/><line x1="492.1" y1="396.4" x2="493.5" y2="396.4" stroke="#d88070" stroke-width="0.7"/><line x1="522.3" y1="408.1" x2="522.3" y2="409.5" stroke="#d88070" stroke-width="0.7"/><line x1="492.1" y1="402.1" x2="493.5" y2="402.1" stroke="#d88070" stroke-width="0.7"/><line x1="528.0" y1="408.1" x2="528.0" y2="409.5" stroke="#d88070" stroke-width="0.7"/><line x1="492.1" y1="407.9" x2="493.5" y2="407.9" stroke="#d88070" stroke-width="0.7"/><line x1="533.7" y1="408.1" x2="533.7" y2="409.5" stroke="#d88070" stroke-width="0.7"/>
<svg x="493.72" y="367.60" width="40.00" height="40.30" viewBox="0 0 100 100" preserveAspectRatio="none"><g filter="url(#jet)"><rect x="-5" y="-5" width="110" height="110" fill="rgb(87,87,87)"/><ellipse cx="48.0" cy="71.0" rx="21.1" ry="15.8" fill="url(#gn)" opacity="0.36"/><ellipse cx="18.0" cy="55.0" rx="21.1" ry="13.2" fill="url(#gn)" opacity="0.20"/><ellipse cx="60.0" cy="30.0" rx="15.8" ry="15.8" fill="url(#gn)" opacity="0.20"/><ellipse cx="30.0" cy="90.0" rx="18.4" ry="18.4" fill="url(#gn)" opacity="0.20"/><ellipse cx="92.0" cy="15.0" rx="15.8" ry="15.8" fill="url(#gn)" opacity="0.20"/><ellipse cx="72.0" cy="55.0" rx="15.8" ry="13.2" fill="url(#gs)" opacity="0.17"/><ellipse cx="88.0" cy="39.0" rx="13.2" ry="13.2" fill="url(#gs)" opacity="0.08"/><ellipse cx="20.5" cy="30.6" rx="25.1" ry="15.5" fill="url(#gp)" opacity="1.00"/></g></svg>
<rect x="535.42" y="367.60" width="3.00" height="40.30" fill="url(#jetv)"/>
<text x="540.22" y="369.90" font-size="6.3" stroke="#111" stroke-width="0.1" fill="#111" >105</text>
<text x="540.22" y="383.33" font-size="6.3" stroke="#111" stroke-width="0.1" fill="#111" >52.5</text>
<text x="540.22" y="396.77" font-size="6.3" stroke="#111" stroke-width="0.1" fill="#111" >0</text>
<text x="540.22" y="410.20" font-size="6.3" stroke="#111" stroke-width="0.1" fill="#111" >-52.5</text>
<text x="507.72" y="365.50" font-size="7.8" textLength="17.0" lengthAdjust="spacingAndGlyphs" fill="#111" stroke="#111" stroke-width="0.12">Ch 16</text>
<rect x="507.7" y="365.7" width="17.0" height="0.7" fill="#333"/>
<line x1="37.4" y1="420.5" x2="38.8" y2="420.5" stroke="#d88070" stroke-width="0.7"/><line x1="39.0" y1="461.0" x2="39.0" y2="462.4" stroke="#d88070" stroke-width="0.7"/><line x1="37.4" y1="426.3" x2="38.8" y2="426.3" stroke="#d88070" stroke-width="0.7"/><line x1="44.7" y1="461.0" x2="44.7" y2="462.4" stroke="#d88070" stroke-width="0.7"/><line x1="37.4" y1="432.0" x2="38.8" y2="432.0" stroke="#d88070" stroke-width="0.7"/><line x1="50.4" y1="461.0" x2="50.4" y2="462.4" stroke="#d88070" stroke-width="0.7"/><line x1="37.4" y1="437.8" x2="38.8" y2="437.8" stroke="#d88070" stroke-width="0.7"/><line x1="56.1" y1="461.0" x2="56.1" y2="462.4" stroke="#d88070" stroke-width="0.7"/><line x1="37.4" y1="443.5" x2="38.8" y2="443.5" stroke="#d88070" stroke-width="0.7"/><line x1="61.9" y1="461.0" x2="61.9" y2="462.4" stroke="#d88070" stroke-width="0.7"/><line x1="37.4" y1="449.3" x2="38.8" y2="449.3" stroke="#d88070" stroke-width="0.7"/><line x1="67.6" y1="461.0" x2="67.6" y2="462.4" stroke="#d88070" stroke-width="0.7"/><line x1="37.4" y1="455.0" x2="38.8" y2="455.0" stroke="#d88070" stroke-width="0.7"/><line x1="73.3" y1="461.0" x2="73.3" y2="462.4" stroke="#d88070" stroke-width="0.7"/><line x1="37.4" y1="460.8" x2="38.8" y2="460.8" stroke="#d88070" stroke-width="0.7"/><line x1="79.0" y1="461.0" x2="79.0" y2="462.4" stroke="#d88070" stroke-width="0.7"/>
<svg x="39.00" y="420.50" width="40.00" height="40.30" viewBox="0 0 100 100" preserveAspectRatio="none"><g filter="url(#jet)"><rect x="-5" y="-5" width="110" height="110" fill="rgb(87,87,87)"/><ellipse cx="88.0" cy="47.0" rx="15.8" ry="15.8" fill="url(#gn)" opacity="0.36"/><ellipse cx="88.0" cy="72.0" rx="15.8" ry="15.8" fill="url(#gn)" opacity="0.36"/><ellipse cx="48.0" cy="31.0" rx="15.8" ry="15.8" fill="url(#gn)" opacity="0.20"/><ellipse cx="46.0" cy="89.0" rx="21.1" ry="13.2" fill="url(#gn)" opacity="0.20"/><ellipse cx="23.0" cy="61.0" rx="21.1" ry="13.2" fill="url(#gn)" opacity="0.20"/><ellipse cx="58.0" cy="70.0" rx="21.1" ry="13.2" fill="url(#gs)" opacity="0.17"/><ellipse cx="67.0" cy="45.0" rx="15.8" ry="15.8" fill="url(#gs)" opacity="0.08"/><ellipse cx="86.0" cy="22.0" rx="13.2" ry="13.2" fill="url(#gs)" opacity="0.08"/><ellipse cx="23.3" cy="29.2" rx="24.3" ry="16.2" fill="url(#gp)" opacity="1.00"/></g></svg>
<rect x="80.70" y="420.50" width="3.00" height="40.30" fill="url(#jetv)"/>
<text x="85.50" y="422.80" font-size="6.3" stroke="#111" stroke-width="0.1" fill="#111" >84</text>
<text x="85.50" y="436.23" font-size="6.3" stroke="#111" stroke-width="0.1" fill="#111" >42</text>
<text x="85.50" y="449.67" font-size="6.3" stroke="#111" stroke-width="0.1" fill="#111" >0</text>
<text x="85.50" y="463.10" font-size="6.3" stroke="#111" stroke-width="0.1" fill="#111" >-42</text>
<text x="53.00" y="418.40" font-size="7.8" textLength="17.0" lengthAdjust="spacingAndGlyphs" fill="#111" stroke="#111" stroke-width="0.12">Ch 18</text>
<rect x="53.0" y="418.6" width="17.0" height="0.7" fill="#333"/>
<line x1="102.4" y1="420.5" x2="103.8" y2="420.5" stroke="#d88070" stroke-width="0.7"/><line x1="104.0" y1="461.0" x2="104.0" y2="462.4" stroke="#d88070" stroke-width="0.7"/><line x1="102.4" y1="426.3" x2="103.8" y2="426.3" stroke="#d88070" stroke-width="0.7"/><line x1="109.7" y1="461.0" x2="109.7" y2="462.4" stroke="#d88070" stroke-width="0.7"/><line x1="102.4" y1="432.0" x2="103.8" y2="432.0" stroke="#d88070" stroke-width="0.7"/><line x1="115.4" y1="461.0" x2="115.4" y2="462.4" stroke="#d88070" stroke-width="0.7"/><line x1="102.4" y1="437.8" x2="103.8" y2="437.8" stroke="#d88070" stroke-width="0.7"/><line x1="121.1" y1="461.0" x2="121.1" y2="462.4" stroke="#d88070" stroke-width="0.7"/><line x1="102.4" y1="443.5" x2="103.8" y2="443.5" stroke="#d88070" stroke-width="0.7"/><line x1="126.8" y1="461.0" x2="126.8" y2="462.4" stroke="#d88070" stroke-width="0.7"/><line x1="102.4" y1="449.3" x2="103.8" y2="449.3" stroke="#d88070" stroke-width="0.7"/><line x1="132.5" y1="461.0" x2="132.5" y2="462.4" stroke="#d88070" stroke-width="0.7"/><line x1="102.4" y1="455.0" x2="103.8" y2="455.0" stroke="#d88070" stroke-width="0.7"/><line x1="138.2" y1="461.0" x2="138.2" y2="462.4" stroke="#d88070" stroke-width="0.7"/><line x1="102.4" y1="460.8" x2="103.8" y2="460.8" stroke="#d88070" stroke-width="0.7"/><line x1="144.0" y1="461.0" x2="144.0" y2="462.4" stroke="#d88070" stroke-width="0.7"/>
<svg x="103.96" y="420.50" width="40.00" height="40.30" viewBox="0 0 100 100" preserveAspectRatio="none"><g filter="url(#jet)"><rect x="-5" y="-5" width="110" height="110" fill="rgb(87,87,87)"/><ellipse cx="88.0" cy="15.0" rx="15.8" ry="21.1" fill="url(#gn)" opacity="0.36"/><ellipse cx="58.0" cy="6.0" rx="15.8" ry="13.2" fill="url(#gn)" opacity="0.20"/><ellipse cx="58.0" cy="61.0" rx="13.2" ry="18.4" fill="url(#gn)" opacity="0.36"/><ellipse cx="14.0" cy="47.0" rx="26.3" ry="10.5" fill="url(#gn)" opacity="0.36"/><ellipse cx="12.0" cy="75.0" rx="21.1" ry="15.8" fill="url(#gn)" opacity="0.20"/><ellipse cx="88.0" cy="95.0" rx="15.8" ry="13.2" fill="url(#gn)" opacity="0.36"/><ellipse cx="84.0" cy="55.0" rx="10.5" ry="26.3" fill="url(#gn)" opacity="0.20"/><ellipse cx="58.0" cy="43.0" rx="13.2" ry="13.2" fill="url(#gs)" opacity="0.17"/><ellipse cx="41.0" cy="59.0" rx="13.2" ry="13.2" fill="url(#gs)" opacity="0.28"/><ellipse cx="27.0" cy="86.0" rx="13.2" ry="15.8" fill="url(#gs)" opacity="0.17"/><ellipse cx="72.0" cy="84.0" rx="15.8" ry="15.8" fill="url(#gs)" opacity="0.08"/><ellipse cx="21.0" cy="29.2" rx="24.3" ry="16.2" fill="url(#gp)" opacity="1.00"/></g></svg>
<rect x="145.66" y="420.50" width="3.00" height="40.30" fill="url(#jetv)"/>
<text x="150.46" y="422.80" font-size="6.3" stroke="#111" stroke-width="0.1" fill="#111" >78</text>
<text x="150.46" y="436.23" font-size="6.3" stroke="#111" stroke-width="0.1" fill="#111" >39</text>
<text x="150.46" y="449.67" font-size="6.3" stroke="#111" stroke-width="0.1" fill="#111" >0</text>
<text x="150.46" y="463.10" font-size="6.3" stroke="#111" stroke-width="0.1" fill="#111" >-39</text>
<text x="117.96" y="418.40" font-size="7.8" textLength="17.0" lengthAdjust="spacingAndGlyphs" fill="#111" stroke="#111" stroke-width="0.12">Ch 20</text>
<rect x="118.0" y="418.6" width="17.0" height="0.7" fill="#333"/>
<line x1="167.3" y1="420.5" x2="168.7" y2="420.5" stroke="#d88070" stroke-width="0.7"/><line x1="168.9" y1="461.0" x2="168.9" y2="462.4" stroke="#d88070" stroke-width="0.7"/><line x1="167.3" y1="426.3" x2="168.7" y2="426.3" stroke="#d88070" stroke-width="0.7"/><line x1="174.6" y1="461.0" x2="174.6" y2="462.4" stroke="#d88070" stroke-width="0.7"/><line x1="167.3" y1="432.0" x2="168.7" y2="432.0" stroke="#d88070" stroke-width="0.7"/><line x1="180.3" y1="461.0" x2="180.3" y2="462.4" stroke="#d88070" stroke-width="0.7"/><line x1="167.3" y1="437.8" x2="168.7" y2="437.8" stroke="#d88070" stroke-width="0.7"/><line x1="186.1" y1="461.0" x2="186.1" y2="462.4" stroke="#d88070" stroke-width="0.7"/><line x1="167.3" y1="443.5" x2="168.7" y2="443.5" stroke="#d88070" stroke-width="0.7"/><line x1="191.8" y1="461.0" x2="191.8" y2="462.4" stroke="#d88070" stroke-width="0.7"/><line x1="167.3" y1="449.3" x2="168.7" y2="449.3" stroke="#d88070" stroke-width="0.7"/><line x1="197.5" y1="461.0" x2="197.5" y2="462.4" stroke="#d88070" stroke-width="0.7"/><line x1="167.3" y1="455.0" x2="168.7" y2="455.0" stroke="#d88070" stroke-width="0.7"/><line x1="203.2" y1="461.0" x2="203.2" y2="462.4" stroke="#d88070" stroke-width="0.7"/><line x1="167.3" y1="460.8" x2="168.7" y2="460.8" stroke="#d88070" stroke-width="0.7"/><line x1="208.9" y1="461.0" x2="208.9" y2="462.4" stroke="#d88070" stroke-width="0.7"/>
<svg x="168.92" y="420.50" width="40.00" height="40.30" viewBox="0 0 100 100" preserveAspectRatio="none"><g filter="url(#jet)"><rect x="-5" y="-5" width="110" height="110" fill="rgb(87,87,87)"/><ellipse cx="16.0" cy="47.0" rx="31.6" ry="13.2" fill="url(#gn)" opacity="0.20"/><ellipse cx="56.0" cy="59.0" rx="26.3" ry="15.8" fill="url(#gn)" opacity="0.20"/><ellipse cx="16.0" cy="89.0" rx="21.1" ry="21.1" fill="url(#gn)" opacity="0.20"/><ellipse cx="86.0" cy="89.0" rx="21.1" ry="21.1" fill="url(#gn)" opacity="0.20"/><ellipse cx="90.0" cy="54.0" rx="13.2" ry="13.2" fill="url(#gn)" opacity="0.20"/><ellipse cx="40.0" cy="5.0" rx="26.3" ry="10.5" fill="url(#gn)" opacity="0.20"/><ellipse cx="72.0" cy="38.0" rx="13.2" ry="15.8" fill="url(#gs)" opacity="0.17"/><ellipse cx="72.0" cy="86.0" rx="13.2" ry="13.2" fill="url(#gs)" opacity="0.08"/><ellipse cx="28.0" cy="70.0" rx="15.8" ry="15.8" fill="url(#gs)" opacity="0.08"/><ellipse cx="16.3" cy="28.7" rx="20.3" ry="17.6" fill="url(#gp)" opacity="1.00"/></g></svg>
<rect x="210.62" y="420.50" width="3.00" height="40.30" fill="url(#jetv)"/>
<text x="215.42" y="422.80" font-size="6.3" stroke="#111" stroke-width="0.1" fill="#111" >95</text>
<text x="215.42" y="436.23" font-size="6.3" stroke="#111" stroke-width="0.1" fill="#111" >47.5</text>
<text x="215.42" y="449.67" font-size="6.3" stroke="#111" stroke-width="0.1" fill="#111" >0</text>
<text x="215.42" y="463.10" font-size="6.3" stroke="#111" stroke-width="0.1" fill="#111" >-47.5</text>
<text x="182.92" y="418.40" font-size="7.8" textLength="17.0" lengthAdjust="spacingAndGlyphs" fill="#111" stroke="#111" stroke-width="0.12">Ch 22</text>
<rect x="182.9" y="418.6" width="17.0" height="0.7" fill="#333"/>
<line x1="232.3" y1="420.5" x2="233.7" y2="420.5" stroke="#d88070" stroke-width="0.7"/><line x1="233.9" y1="461.0" x2="233.9" y2="462.4" stroke="#d88070" stroke-width="0.7"/><line x1="232.3" y1="426.3" x2="233.7" y2="426.3" stroke="#d88070" stroke-width="0.7"/><line x1="239.6" y1="461.0" x2="239.6" y2="462.4" stroke="#d88070" stroke-width="0.7"/><line x1="232.3" y1="432.0" x2="233.7" y2="432.0" stroke="#d88070" stroke-width="0.7"/><line x1="245.3" y1="461.0" x2="245.3" y2="462.4" stroke="#d88070" stroke-width="0.7"/><line x1="232.3" y1="437.8" x2="233.7" y2="437.8" stroke="#d88070" stroke-width="0.7"/><line x1="251.0" y1="461.0" x2="251.0" y2="462.4" stroke="#d88070" stroke-width="0.7"/><line x1="232.3" y1="443.5" x2="233.7" y2="443.5" stroke="#d88070" stroke-width="0.7"/><line x1="256.7" y1="461.0" x2="256.7" y2="462.4" stroke="#d88070" stroke-width="0.7"/><line x1="232.3" y1="449.3" x2="233.7" y2="449.3" stroke="#d88070" stroke-width="0.7"/><line x1="262.5" y1="461.0" x2="262.5" y2="462.4" stroke="#d88070" stroke-width="0.7"/><line x1="232.3" y1="455.0" x2="233.7" y2="455.0" stroke="#d88070" stroke-width="0.7"/><line x1="268.2" y1="461.0" x2="268.2" y2="462.4" stroke="#d88070" stroke-width="0.7"/><line x1="232.3" y1="460.8" x2="233.7" y2="460.8" stroke="#d88070" stroke-width="0.7"/><line x1="273.9" y1="461.0" x2="273.9" y2="462.4" stroke="#d88070" stroke-width="0.7"/>
<svg x="233.88" y="420.50" width="40.00" height="40.30" viewBox="0 0 100 100" preserveAspectRatio="none"><g filter="url(#jet)"><rect x="-5" y="-5" width="110" height="110" fill="rgb(87,87,87)"/><ellipse cx="58.0" cy="75.0" rx="15.8" ry="13.2" fill="url(#gn)" opacity="0.36"/><ellipse cx="86.0" cy="70.0" rx="15.8" ry="15.8" fill="url(#gn)" opacity="0.20"/><ellipse cx="86.0" cy="33.0" rx="13.2" ry="21.1" fill="url(#gn)" opacity="0.20"/><ellipse cx="30.0" cy="45.0" rx="31.6" ry="10.5" fill="url(#gn)" opacity="0.20"/><ellipse cx="6.0" cy="72.0" rx="13.2" ry="21.1" fill="url(#gn)" opacity="0.20"/><ellipse cx="7.0" cy="6.0" rx="15.8" ry="15.8" fill="url(#gn)" opacity="0.20"/><ellipse cx="56.0" cy="56.0" rx="18.4" ry="10.5" fill="url(#gs)" opacity="0.17"/><ellipse cx="91.0" cy="90.0" rx="15.8" ry="13.2" fill="url(#gs)" opacity="0.17"/><ellipse cx="30.0" cy="60.0" rx="18.4" ry="10.5" fill="url(#gs)" opacity="0.08"/><ellipse cx="7.0" cy="93.0" rx="13.2" ry="13.2" fill="url(#gs)" opacity="0.17"/><ellipse cx="10.0" cy="10.0" rx="13.2" ry="13.2" fill="url(#gs)" opacity="0.08"/><ellipse cx="16.3" cy="27.6" rx="18.1" ry="18.6" fill="url(#gp)" opacity="1.00"/></g></svg>
<rect x="275.58" y="420.50" width="3.00" height="40.30" fill="url(#jetv)"/>
<text x="280.38" y="422.80" font-size="6.3" stroke="#111" stroke-width="0.1" fill="#111" >46</text>
<text x="280.38" y="436.23" font-size="6.3" stroke="#111" stroke-width="0.1" fill="#111" >23</text>
<text x="280.38" y="449.67" font-size="6.3" stroke="#111" stroke-width="0.1" fill="#111" >0</text>
<text x="280.38" y="463.10" font-size="6.3" stroke="#111" stroke-width="0.1" fill="#111" >-23</text>
<text x="247.88" y="418.40" font-size="7.8" textLength="17.0" lengthAdjust="spacingAndGlyphs" fill="#111" stroke="#111" stroke-width="0.12">Ch 24</text>
<rect x="247.9" y="418.6" width="17.0" height="0.7" fill="#333"/>
<line x1="297.2" y1="420.5" x2="298.6" y2="420.5" stroke="#d88070" stroke-width="0.7"/><line x1="298.8" y1="461.0" x2="298.8" y2="462.4" stroke="#d88070" stroke-width="0.7"/><line x1="297.2" y1="426.3" x2="298.6" y2="426.3" stroke="#d88070" stroke-width="0.7"/><line x1="304.6" y1="461.0" x2="304.6" y2="462.4" stroke="#d88070" stroke-width="0.7"/><line x1="297.2" y1="432.0" x2="298.6" y2="432.0" stroke="#d88070" stroke-width="0.7"/><line x1="310.3" y1="461.0" x2="310.3" y2="462.4" stroke="#d88070" stroke-width="0.7"/><line x1="297.2" y1="437.8" x2="298.6" y2="437.8" stroke="#d88070" stroke-width="0.7"/><line x1="316.0" y1="461.0" x2="316.0" y2="462.4" stroke="#d88070" stroke-width="0.7"/><line x1="297.2" y1="443.5" x2="298.6" y2="443.5" stroke="#d88070" stroke-width="0.7"/><line x1="321.7" y1="461.0" x2="321.7" y2="462.4" stroke="#d88070" stroke-width="0.7"/><line x1="297.2" y1="449.3" x2="298.6" y2="449.3" stroke="#d88070" stroke-width="0.7"/><line x1="327.4" y1="461.0" x2="327.4" y2="462.4" stroke="#d88070" stroke-width="0.7"/><line x1="297.2" y1="455.0" x2="298.6" y2="455.0" stroke="#d88070" stroke-width="0.7"/><line x1="333.1" y1="461.0" x2="333.1" y2="462.4" stroke="#d88070" stroke-width="0.7"/><line x1="297.2" y1="460.8" x2="298.6" y2="460.8" stroke="#d88070" stroke-width="0.7"/><line x1="338.8" y1="461.0" x2="338.8" y2="462.4" stroke="#d88070" stroke-width="0.7"/>
<svg x="298.84" y="420.50" width="40.00" height="40.30" viewBox="0 0 100 100" preserveAspectRatio="none"><g filter="url(#jet)"><rect x="-5" y="-5" width="110" height="110" fill="rgb(87,87,87)"/><ellipse cx="58.0" cy="2.0" rx="18.4" ry="10.5" fill="url(#gn)" opacity="0.60"/><ellipse cx="42.0" cy="26.4" rx="15.8" ry="21.1" fill="url(#gn)" opacity="0.36"/><ellipse cx="7.0" cy="49.0" rx="21.1" ry="15.8" fill="url(#gn)" opacity="0.36"/><ellipse cx="26.0" cy="75.0" rx="21.1" ry="15.8" fill="url(#gn)" opacity="0.36"/><ellipse cx="58.0" cy="86.0" rx="15.8" ry="15.8" fill="url(#gn)" opacity="0.50"/><ellipse cx="88.0" cy="63.0" rx="18.4" ry="23.7" fill="url(#gn)" opacity="0.50"/><ellipse cx="70.0" cy="40.0" rx="13.2" ry="13.2" fill="url(#gn)" opacity="0.20"/><ellipse cx="40.0" cy="59.0" rx="39.5" ry="13.2" fill="url(#gs)" opacity="0.17"/><ellipse cx="14.0" cy="84.0" rx="13.2" ry="21.1" fill="url(#gs)" opacity="0.17"/><ellipse cx="60.0" cy="24.0" rx="10.5" ry="21.1" fill="url(#gs)" opacity="0.17"/><ellipse cx="86.0" cy="40.0" rx="13.2" ry="13.2" fill="url(#gs)" opacity="0.17"/><ellipse cx="14.4" cy="21.8" rx="16.5" ry="24.9" fill="url(#gp)" opacity="1.00"/></g></svg>
<rect x="340.54" y="420.50" width="3.00" height="40.30" fill="url(#jetv)"/>
<text x="345.34" y="422.80" font-size="6.3" stroke="#111" stroke-width="0.1" fill="#111" >43</text>
<text x="345.34" y="436.23" font-size="6.3" stroke="#111" stroke-width="0.1" fill="#111" >21.5</text>
<text x="345.34" y="449.67" font-size="6.3" stroke="#111" stroke-width="0.1" fill="#111" >0</text>
<text x="345.34" y="463.10" font-size="6.3" stroke="#111" stroke-width="0.1" fill="#111" >-21.5</text>
<text x="312.84" y="418.40" font-size="7.8" textLength="17.0" lengthAdjust="spacingAndGlyphs" fill="#111" stroke="#111" stroke-width="0.12">Ch 26</text>
<rect x="312.8" y="418.6" width="17.0" height="0.7" fill="#333"/>
<line x1="362.2" y1="420.5" x2="363.6" y2="420.5" stroke="#d88070" stroke-width="0.7"/><line x1="363.8" y1="461.0" x2="363.8" y2="462.4" stroke="#d88070" stroke-width="0.7"/><line x1="362.2" y1="426.3" x2="363.6" y2="426.3" stroke="#d88070" stroke-width="0.7"/><line x1="369.5" y1="461.0" x2="369.5" y2="462.4" stroke="#d88070" stroke-width="0.7"/><line x1="362.2" y1="432.0" x2="363.6" y2="432.0" stroke="#d88070" stroke-width="0.7"/><line x1="375.2" y1="461.0" x2="375.2" y2="462.4" stroke="#d88070" stroke-width="0.7"/><line x1="362.2" y1="437.8" x2="363.6" y2="437.8" stroke="#d88070" stroke-width="0.7"/><line x1="380.9" y1="461.0" x2="380.9" y2="462.4" stroke="#d88070" stroke-width="0.7"/><line x1="362.2" y1="443.5" x2="363.6" y2="443.5" stroke="#d88070" stroke-width="0.7"/><line x1="386.7" y1="461.0" x2="386.7" y2="462.4" stroke="#d88070" stroke-width="0.7"/><line x1="362.2" y1="449.3" x2="363.6" y2="449.3" stroke="#d88070" stroke-width="0.7"/><line x1="392.4" y1="461.0" x2="392.4" y2="462.4" stroke="#d88070" stroke-width="0.7"/><line x1="362.2" y1="455.0" x2="363.6" y2="455.0" stroke="#d88070" stroke-width="0.7"/><line x1="398.1" y1="461.0" x2="398.1" y2="462.4" stroke="#d88070" stroke-width="0.7"/><line x1="362.2" y1="460.8" x2="363.6" y2="460.8" stroke="#d88070" stroke-width="0.7"/><line x1="403.8" y1="461.0" x2="403.8" y2="462.4" stroke="#d88070" stroke-width="0.7"/>
<svg x="363.80" y="420.50" width="40.00" height="40.30" viewBox="0 0 100 100" preserveAspectRatio="none"><g filter="url(#jet)"><rect x="-5" y="-5" width="110" height="110" fill="rgb(87,87,87)"/><ellipse cx="30.0" cy="26.4" rx="13.2" ry="21.1" fill="url(#gn)" opacity="0.36"/><ellipse cx="30.0" cy="75.0" rx="23.7" ry="15.8" fill="url(#gn)" opacity="0.36"/><ellipse cx="12.0" cy="54.0" rx="15.8" ry="15.8" fill="url(#gn)" opacity="0.20"/><ellipse cx="56.0" cy="56.0" rx="18.4" ry="13.2" fill="url(#gn)" opacity="0.20"/><ellipse cx="58.0" cy="10.0" rx="18.4" ry="18.4" fill="url(#gn)" opacity="0.20"/><ellipse cx="85.0" cy="15.0" rx="15.8" ry="15.8" fill="url(#gn)" opacity="0.20"/><ellipse cx="92.0" cy="85.0" rx="15.8" ry="15.8" fill="url(#gn)" opacity="0.20"/><ellipse cx="58.0" cy="75.0" rx="15.8" ry="15.8" fill="url(#gs)" opacity="0.17"/><ellipse cx="86.0" cy="31.0" rx="13.2" ry="13.2" fill="url(#gs)" opacity="0.17"/><ellipse cx="44.0" cy="43.0" rx="18.4" ry="18.4" fill="url(#gs)" opacity="0.08"/><ellipse cx="14.0" cy="20.7" rx="14.2" ry="24.1" fill="url(#gp)" opacity="1.00"/></g></svg>
<rect x="405.50" y="420.50" width="3.00" height="40.30" fill="url(#jetv)"/>
<text x="410.30" y="422.80" font-size="6.3" stroke="#111" stroke-width="0.1" fill="#111" >69</text>
<text x="410.30" y="436.23" font-size="6.3" stroke="#111" stroke-width="0.1" fill="#111" >34.5</text>
<text x="410.30" y="449.67" font-size="6.3" stroke="#111" stroke-width="0.1" fill="#111" >0</text>
<text x="410.30" y="463.10" font-size="6.3" stroke="#111" stroke-width="0.1" fill="#111" >-34.5</text>
<text x="377.80" y="418.40" font-size="7.8" textLength="17.0" lengthAdjust="spacingAndGlyphs" fill="#111" stroke="#111" stroke-width="0.12">Ch 28</text>
<rect x="377.8" y="418.6" width="17.0" height="0.7" fill="#333"/>
<line x1="427.2" y1="420.5" x2="428.6" y2="420.5" stroke="#d88070" stroke-width="0.7"/><line x1="428.8" y1="461.0" x2="428.8" y2="462.4" stroke="#d88070" stroke-width="0.7"/><line x1="427.2" y1="426.3" x2="428.6" y2="426.3" stroke="#d88070" stroke-width="0.7"/><line x1="434.5" y1="461.0" x2="434.5" y2="462.4" stroke="#d88070" stroke-width="0.7"/><line x1="427.2" y1="432.0" x2="428.6" y2="432.0" stroke="#d88070" stroke-width="0.7"/><line x1="440.2" y1="461.0" x2="440.2" y2="462.4" stroke="#d88070" stroke-width="0.7"/><line x1="427.2" y1="437.8" x2="428.6" y2="437.8" stroke="#d88070" stroke-width="0.7"/><line x1="445.9" y1="461.0" x2="445.9" y2="462.4" stroke="#d88070" stroke-width="0.7"/><line x1="427.2" y1="443.5" x2="428.6" y2="443.5" stroke="#d88070" stroke-width="0.7"/><line x1="451.6" y1="461.0" x2="451.6" y2="462.4" stroke="#d88070" stroke-width="0.7"/><line x1="427.2" y1="449.3" x2="428.6" y2="449.3" stroke="#d88070" stroke-width="0.7"/><line x1="457.3" y1="461.0" x2="457.3" y2="462.4" stroke="#d88070" stroke-width="0.7"/><line x1="427.2" y1="455.0" x2="428.6" y2="455.0" stroke="#d88070" stroke-width="0.7"/><line x1="463.0" y1="461.0" x2="463.0" y2="462.4" stroke="#d88070" stroke-width="0.7"/><line x1="427.2" y1="460.8" x2="428.6" y2="460.8" stroke="#d88070" stroke-width="0.7"/><line x1="468.8" y1="461.0" x2="468.8" y2="462.4" stroke="#d88070" stroke-width="0.7"/>
<svg x="428.76" y="420.50" width="40.00" height="40.30" viewBox="0 0 100 100" preserveAspectRatio="none"><g filter="url(#jet)"><rect x="-5" y="-5" width="110" height="110" fill="rgb(87,87,87)"/><ellipse cx="34.0" cy="20.0" rx="13.2" ry="26.3" fill="url(#gn)" opacity="0.36"/><ellipse cx="41.0" cy="45.0" rx="15.8" ry="15.8" fill="url(#gn)" opacity="0.36"/><ellipse cx="58.0" cy="29.0" rx="18.4" ry="13.2" fill="url(#gn)" opacity="0.36"/><ellipse cx="88.0" cy="24.0" rx="15.8" ry="21.1" fill="url(#gn)" opacity="0.36"/><ellipse cx="11.0" cy="52.0" rx="15.8" ry="15.8" fill="url(#gn)" opacity="0.20"/><ellipse cx="58.0" cy="72.0" rx="18.4" ry="13.2" fill="url(#gn)" opacity="0.36"/><ellipse cx="9.0" cy="89.0" rx="18.4" ry="18.4" fill="url(#gn)" opacity="0.36"/><ellipse cx="30.0" cy="98.0" rx="18.4" ry="10.5" fill="url(#gn)" opacity="0.36"/><ellipse cx="95.0" cy="75.0" rx="13.2" ry="13.2" fill="url(#gn)" opacity="0.36"/><ellipse cx="62.0" cy="13.0" rx="21.1" ry="13.2" fill="url(#gs)" opacity="0.17"/><ellipse cx="58.0" cy="47.0" rx="13.2" ry="18.4" fill="url(#gs)" opacity="0.17"/><ellipse cx="30.0" cy="70.0" rx="23.7" ry="21.1" fill="url(#gs)" opacity="0.17"/><ellipse cx="58.0" cy="89.0" rx="15.8" ry="13.2" fill="url(#gs)" opacity="0.17"/><ellipse cx="86.0" cy="54.0" rx="13.2" ry="13.2" fill="url(#gs)" opacity="0.08"/><ellipse cx="14.7" cy="19.5" rx="14.2" ry="23.2" fill="url(#gp)" opacity="1.00"/></g></svg>
<rect x="470.46" y="420.50" width="3.00" height="40.30" fill="url(#jetv)"/>
<text x="475.26" y="422.80" font-size="6.3" stroke="#111" stroke-width="0.1" fill="#111" >61</text>
<text x="475.26" y="436.23" font-size="6.3" stroke="#111" stroke-width="0.1" fill="#111" >30.5</text>
<text x="475.26" y="449.67" font-size="6.3" stroke="#111" stroke-width="0.1" fill="#111" >0</text>
<text x="475.26" y="463.10" font-size="6.3" stroke="#111" stroke-width="0.1" fill="#111" >-30.5</text>
<text x="442.76" y="418.40" font-size="7.8" textLength="17.0" lengthAdjust="spacingAndGlyphs" fill="#111" stroke="#111" stroke-width="0.12">Ch 30</text>
<rect x="442.8" y="418.6" width="17.0" height="0.7" fill="#333"/>
<line x1="492.1" y1="420.5" x2="493.5" y2="420.5" stroke="#d88070" stroke-width="0.7"/><line x1="493.7" y1="461.0" x2="493.7" y2="462.4" stroke="#d88070" stroke-width="0.7"/><line x1="492.1" y1="426.3" x2="493.5" y2="426.3" stroke="#d88070" stroke-width="0.7"/><line x1="499.4" y1="461.0" x2="499.4" y2="462.4" stroke="#d88070" stroke-width="0.7"/><line x1="492.1" y1="432.0" x2="493.5" y2="432.0" stroke="#d88070" stroke-width="0.7"/><line x1="505.1" y1="461.0" x2="505.1" y2="462.4" stroke="#d88070" stroke-width="0.7"/><line x1="492.1" y1="437.8" x2="493.5" y2="437.8" stroke="#d88070" stroke-width="0.7"/><line x1="510.9" y1="461.0" x2="510.9" y2="462.4" stroke="#d88070" stroke-width="0.7"/><line x1="492.1" y1="443.5" x2="493.5" y2="443.5" stroke="#d88070" stroke-width="0.7"/><line x1="516.6" y1="461.0" x2="516.6" y2="462.4" stroke="#d88070" stroke-width="0.7"/><line x1="492.1" y1="449.3" x2="493.5" y2="449.3" stroke="#d88070" stroke-width="0.7"/><line x1="522.3" y1="461.0" x2="522.3" y2="462.4" stroke="#d88070" stroke-width="0.7"/><line x1="492.1" y1="455.0" x2="493.5" y2="455.0" stroke="#d88070" stroke-width="0.7"/><line x1="528.0" y1="461.0" x2="528.0" y2="462.4" stroke="#d88070" stroke-width="0.7"/><line x1="492.1" y1="460.8" x2="493.5" y2="460.8" stroke="#d88070" stroke-width="0.7"/><line x1="533.7" y1="461.0" x2="533.7" y2="462.4" stroke="#d88070" stroke-width="0.7"/>
<svg x="493.72" y="420.50" width="40.00" height="40.30" viewBox="0 0 100 100" preserveAspectRatio="none"><g filter="url(#jet)"><rect x="-5" y="-5" width="110" height="110" fill="rgb(20,20,20)"/><ellipse cx="4.0" cy="50.0" rx="13.3" ry="111.1" fill="url(#gs)" opacity="0.42"/><ellipse cx="30.0" cy="3.0" rx="66.7" ry="11.1" fill="url(#gs)" opacity="0.35"/><ellipse cx="75.0" cy="35.0" rx="13.3" ry="55.6" fill="url(#gs)" opacity="0.40"/><ellipse cx="97.0" cy="30.0" rx="11.1" ry="48.9" fill="url(#gs)" opacity="0.30"/><ellipse cx="60.0" cy="87.0" rx="71.1" ry="17.8" fill="url(#gs)" opacity="0.38"/><ellipse cx="20.0" cy="68.0" rx="28.9" ry="22.2" fill="url(#gs)" opacity="0.38"/><ellipse cx="14.0" cy="26.0" rx="13.3" ry="13.3" fill="url(#gs)" opacity="0.38"/><ellipse cx="46.0" cy="59.0" rx="13.3" ry="13.3" fill="url(#gs)" opacity="0.42"/><ellipse cx="44.0" cy="10.0" rx="17.8" ry="17.8" fill="url(#gs)" opacity="0.62"/><ellipse cx="88.0" cy="63.0" rx="17.8" ry="17.8" fill="url(#gs)" opacity="0.62"/><ellipse cx="69.0" cy="89.0" rx="17.8" ry="17.8" fill="url(#gs)" opacity="0.55"/><ellipse cx="46.0" cy="86.0" rx="17.8" ry="11.1" fill="url(#gs)" opacity="0.45"/><ellipse cx="46.0" cy="72.0" rx="13.3" ry="13.3" fill="url(#gn)" opacity="0.85"/><ellipse cx="90.0" cy="43.0" rx="17.8" ry="13.3" fill="url(#gn)" opacity="0.85"/><ellipse cx="88.0" cy="13.0" rx="22.2" ry="22.2" fill="url(#gn)" opacity="0.85"/><ellipse cx="25.0" cy="98.0" rx="28.9" ry="11.1" fill="url(#gn)" opacity="0.70"/><ellipse cx="40.0" cy="40.0" rx="44.4" ry="44.4" fill="url(#gn)" opacity="0.80"/><ellipse cx="15.0" cy="77.0" rx="12.2" ry="13.5" fill="url(#gp)" opacity="0.80"/></g></svg>
<rect x="535.42" y="420.50" width="3.00" height="40.30" fill="url(#jetv)"/>
<text x="540.22" y="422.80" font-size="6.3" stroke="#111" stroke-width="0.1" fill="#111" >22</text>
<text x="540.22" y="436.23" font-size="6.3" stroke="#111" stroke-width="0.1" fill="#111" >11</text>
<text x="540.22" y="449.67" font-size="6.3" stroke="#111" stroke-width="0.1" fill="#111" >0</text>
<text x="540.22" y="463.10" font-size="6.3" stroke="#111" stroke-width="0.1" fill="#111" >-11</text>
<text x="507.72" y="418.40" font-size="7.8" textLength="17.0" lengthAdjust="spacingAndGlyphs" fill="#111" stroke="#111" stroke-width="0.12">Ch 32</text>
<rect x="507.7" y="418.6" width="17.0" height="0.7" fill="#333"/>
<text x="565" y="278.5" font-size="9.6" font-weight="bold" text-anchor="middle" transform="rotate(-90 565 278.5)">Net spikerate (sp/s)</text>
<text x="566" y="412.5" font-size="9.6" font-weight="bold" text-anchor="middle" transform="rotate(-90 566 412.5)">Net spikerate (sp/s)</text>
<path d="M26 404.3V475.1H94.6" fill="none" stroke="#000" stroke-width="1.8"/>
<line x1="26" y1="406.5" x2="27.8" y2="406.5" stroke="#000" stroke-width="0.7"/>
<text x="25.40" y="408.90" font-size="6.8" stroke="#000" stroke-width="0.3" text-anchor="end" >-1°</text>
<line x1="26.0" y1="475.1" x2="26.0" y2="473.3" stroke="#000" stroke-width="0.7"/>
<text x="26.00" y="483.60" font-size="6.8" stroke="#000" stroke-width="0.3" text-anchor="middle" >-1°</text>
<line x1="26" y1="416.3" x2="27.8" y2="416.3" stroke="#000" stroke-width="0.7"/>
<text x="25.40" y="418.70" font-size="6.8" stroke="#000" stroke-width="0.3" text-anchor="end" >0°</text>
<line x1="35.7" y1="475.1" x2="35.7" y2="473.3" stroke="#000" stroke-width="0.7"/>
<text x="35.67" y="483.60" font-size="6.8" stroke="#000" stroke-width="0.3" text-anchor="middle" >0°</text>
<line x1="26" y1="426.1" x2="27.8" y2="426.1" stroke="#000" stroke-width="0.7"/>
<text x="25.40" y="428.50" font-size="6.8" stroke="#000" stroke-width="0.3" text-anchor="end" >+1°</text>
<line x1="45.3" y1="475.1" x2="45.3" y2="473.3" stroke="#000" stroke-width="0.7"/>
<text x="45.34" y="483.60" font-size="6.8" stroke="#000" stroke-width="0.3" text-anchor="middle" >+1°</text>
<line x1="26" y1="435.9" x2="27.8" y2="435.9" stroke="#000" stroke-width="0.7"/>
<text x="25.40" y="438.30" font-size="6.8" stroke="#000" stroke-width="0.3" text-anchor="end" >+2°</text>
<line x1="55.0" y1="475.1" x2="55.0" y2="473.3" stroke="#000" stroke-width="0.7"/>
<text x="55.01" y="483.60" font-size="6.8" stroke="#000" stroke-width="0.3" text-anchor="middle" >+2°</text>
<line x1="26" y1="445.7" x2="27.8" y2="445.7" stroke="#000" stroke-width="0.7"/>
<text x="25.40" y="448.10" font-size="6.8" stroke="#000" stroke-width="0.3" text-anchor="end" >+3°</text>
<line x1="64.7" y1="475.1" x2="64.7" y2="473.3" stroke="#000" stroke-width="0.7"/>
<text x="64.69" y="483.60" font-size="6.8" stroke="#000" stroke-width="0.3" text-anchor="middle" >+3°</text>
<line x1="26" y1="455.5" x2="27.8" y2="455.5" stroke="#000" stroke-width="0.7"/>
<text x="25.40" y="457.90" font-size="6.8" stroke="#000" stroke-width="0.3" text-anchor="end" >+4°</text>
<line x1="74.4" y1="475.1" x2="74.4" y2="473.3" stroke="#000" stroke-width="0.7"/>
<text x="74.36" y="483.60" font-size="6.8" stroke="#000" stroke-width="0.3" text-anchor="middle" >+4°</text>
<line x1="26" y1="465.3" x2="27.8" y2="465.3" stroke="#000" stroke-width="0.7"/>
<text x="25.40" y="467.70" font-size="6.8" stroke="#000" stroke-width="0.3" text-anchor="end" >+5°</text>
<line x1="84.0" y1="475.1" x2="84.0" y2="473.3" stroke="#000" stroke-width="0.7"/>
<text x="84.03" y="483.60" font-size="6.8" stroke="#000" stroke-width="0.3" text-anchor="middle" >+5°</text>
<line x1="26" y1="475.1" x2="27.8" y2="475.1" stroke="#000" stroke-width="0.7"/>
<text x="25.40" y="477.50" font-size="6.8" stroke="#000" stroke-width="0.3" text-anchor="end" >+6°</text>
<line x1="93.7" y1="475.1" x2="93.7" y2="473.3" stroke="#000" stroke-width="0.7"/>
<text x="93.70" y="483.60" font-size="6.8" stroke="#000" stroke-width="0.3" text-anchor="middle" >+6°</text>
</svg></body></html>
